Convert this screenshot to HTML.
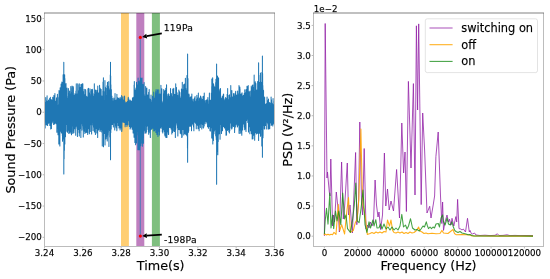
<!DOCTYPE html>
<html><head><meta charset="utf-8"><title>figure</title>
<style>
html,body{margin:0;padding:0;background:#fff;width:550px;height:279px;overflow:hidden}
svg{display:block}
text{font-family:"DejaVu Sans","Liberation Sans",sans-serif;fill:#000;stroke:#000;stroke-width:0.25px;stroke-opacity:0.6}
</style></head><body>
<svg width="550" height="279" viewBox="0 0 550 279">
<rect width="550" height="279" fill="#fff"/>
<defs><clipPath id="clipL"><rect x="44.5" y="12.8" width="230" height="233.7"/></clipPath><clipPath id="clipR"><rect x="313.5" y="12.8" width="230" height="233.7"/></clipPath></defs>
<rect x="121.00" y="13.0" width="7.90" height="233.5" fill="rgba(255,165,0,0.55)"/>
<rect x="136.30" y="13.0" width="8.00" height="233.5" fill="rgba(128,0,128,0.5)"/>
<rect x="151.90" y="13.0" width="8.00" height="233.5" fill="rgba(0,128,0,0.5)"/>
<g clip-path="url(#clipL)"><polyline transform="translate(44.5,0) scale(0.025000,0.1)" vector-effect="non-scaling-stroke" fill="none" stroke="#1f77b4" stroke-width="1.04" stroke-linejoin="round" points="0 1122 1 1100 2 1140 3 1178 4 1151 5 1184 6 1118 7 1023 8 1153 9 1161 10 1086 11 1096 12 1115 13 1181 14 1124 15 1071 16 1206 17 1151 18 1241 19 1203 20 1238 21 1137 22 1202 23 1102 24 1111 25 1134 26 1280 27 1156 28 1125 29 1114 30 1218 31 1152 32 1184 33 1173 34 1044 35 1173 36 1124 37 1057 38 1159 39 1129 40 1114 41 1118 42 1199 43 1117 44 1022 45 1219 46 1059 47 1114 48 1163 49 975 50 1066 51 1197 52 1117 53 1080 54 1134 55 1072 56 1127 57 1073 58 1016 59 1165 60 1107 61 1151 62 1113 63 1197 64 1159 65 1135 66 1056 67 1038 68 1205 69 1172 70 1075 71 1247 72 1151 73 1129 74 1030 75 1071 76 1143 77 1145 78 1138 79 1010 80 1149 81 1141 82 1096 83 1130 84 1135 85 1192 86 1123 87 1150 88 1036 89 1074 90 1124 91 1073 92 1144 93 1045 94 1123 95 1079 96 1203 97 1097 98 1228 99 1250 100 1141 101 1179 102 1110 103 957 104 1174 105 1161 106 1107 107 1086 108 1133 109 1135 110 1071 111 1084 112 1187 113 1127 114 1120 115 1188 116 1103 117 1176 118 1051 119 1108 120 1116 121 1159 122 1130 123 1247 124 1193 125 1096 126 1256 127 1060 128 1232 129 1067 130 1175 131 1065 132 1113 133 1219 134 1030 135 1016 136 1127 137 1140 138 1132 139 1183 140 1041 141 1156 142 1126 143 1172 144 1162 145 1202 146 1030 147 1132 148 1051 149 1121 150 1166 151 1143 152 1157 153 1122 154 1146 155 1141 156 1209 157 1173 158 1000 159 1164 160 1188 161 1098 162 1018 163 1213 164 1135 165 1162 166 1233 167 1068 168 1124 169 1117 170 1169 171 1089 172 1156 173 1131 174 1192 175 1198 176 1024 177 1154 178 1101 179 1125 180 1150 181 1154 182 1076 183 1141 184 1132 185 1121 186 1035 187 1072 188 1094 189 1158 190 1209 191 1052 192 1051 193 1131 194 1082 195 1065 196 1061 197 1054 198 1151 199 1010 200 1200 201 1059 202 1086 203 1058 204 984 205 1013 206 1194 207 1228 208 1062 209 1186 210 1123 211 1060 212 1225 213 1254 214 1103 215 1119 216 1138 217 1120 218 1176 219 1217 220 1133 221 1183 222 1225 223 1085 224 1126 225 1092 226 1184 227 1164 228 1185 229 1178 230 1108 231 1171 232 1096 233 1097 234 973 235 1210 236 1057 237 1128 238 1123 239 1213 240 1151 241 1068 242 1128 243 1116 244 1141 245 1037 246 1124 247 1260 248 1166 249 1246 250 1291 251 1156 252 1024 253 1119 254 1196 255 1181 256 1039 257 1111 258 1119 259 1126 260 1120 261 1063 262 1082 263 1106 264 1188 265 1085 266 1165 267 1042 268 1202 269 1131 270 1123 271 1205 272 995 273 1015 274 1151 275 1065 276 1094 277 1286 278 1104 279 1126 280 1116 281 1190 282 1139 283 1134 284 1035 285 1098 286 1123 287 1009 288 1157 289 1147 290 1236 291 1006 292 1051 293 1055 294 1073 295 1114 296 1107 297 1138 298 1135 299 1118 300 1011 301 1081 302 1126 303 1159 304 1162 305 1004 306 1085 307 1117 308 1144 309 1192 310 1127 311 1058 312 1147 313 1137 314 1136 315 1114 316 1222 317 1137 318 1176 319 1057 320 1171 321 1080 322 1010 323 1142 324 1160 325 1108 326 1123 327 1185 328 1088 329 973 330 1139 331 1135 332 1188 333 1099 334 1200 335 1192 336 1028 337 1179 338 1043 339 1010 340 1103 341 1082 342 978 343 1135 344 1160 345 1207 346 1119 347 1013 348 1052 349 1181 350 1176 351 1154 352 1101 353 1135 354 1107 355 1101 356 1141 357 1125 358 1107 359 1128 360 1085 361 984 362 1079 363 1118 364 1228 365 1094 366 1244 367 1211 368 1059 369 1070 370 1132 371 1229 372 1146 373 1165 374 1075 375 956 376 1106 377 1171 378 1196 379 1126 380 1133 381 1194 382 1114 383 1194 384 1040 385 1044 386 1042 387 1152 388 1084 389 1131 390 1147 391 1144 392 1204 393 1213 394 1064 395 1134 396 1106 397 1048 398 1231 399 1171 400 1109 401 1093 402 1146 403 1046 404 1107 405 1198 406 1181 407 1063 408 1088 409 1241 410 1023 411 1078 412 1023 413 1146 414 1141 415 1193 416 935 417 1133 418 1005 419 1163 420 1110 421 1227 422 1146 423 1050 424 1201 425 1043 426 1098 427 1188 428 1154 429 1151 430 1126 431 1156 432 1174 433 1141 434 1187 435 1203 436 1125 437 1057 438 1218 439 1122 440 1163 441 1184 442 1059 443 1155 444 1012 445 1171 446 1094 447 1137 448 1170 449 1079 450 1132 451 1078 452 1125 453 1190 454 1129 455 1119 456 1052 457 1179 458 1125 459 1230 460 1074 461 1190 462 1235 463 1126 464 1041 465 1218 466 1190 467 1169 468 1193 469 1094 470 1173 471 1168 472 1079 473 1170 474 1090 475 1183 476 1198 477 1237 478 985 479 1142 480 1104 481 1124 482 1110 483 1119 484 977 485 1191 486 1227 487 1191 488 1214 489 1063 490 1057 491 1191 492 1222 493 1148 494 1007 495 1323 496 1078 497 1204 498 1034 499 1206 500 1145 501 1241 502 1200 503 1000 504 1049 505 1155 506 1195 507 1281 508 1156 509 1125 510 1130 511 1131 512 1221 513 1128 514 1126 515 998 516 942 517 1135 518 1193 519 1128 520 1179 521 1193 522 1128 523 1223 524 1061 525 1133 526 1097 527 1141 528 1195 529 1218 530 1147 531 1179 532 1097 533 1123 534 1265 535 1115 536 1265 537 1188 538 1154 539 1348 540 1112 541 1105 542 1140 543 1170 544 1164 545 1233 546 1153 547 1186 548 1112 549 1263 550 1094 551 1105 552 1139 553 1175 554 1055 555 1324 556 1066 557 1093 558 1087 559 1075 560 1204 561 1155 562 1043 563 1069 564 1097 565 1312 566 1055 567 976 568 996 569 1093 570 1317 571 1005 572 1141 573 1439 574 1075 575 1309 576 1285 577 1202 578 963 579 1169 580 1089 581 904 582 923 583 1135 584 1153 585 1280 586 1209 587 1069 588 1073 589 1109 590 998 591 1219 592 1129 593 1031 594 1049 595 988 596 1073 597 1161 598 1077 599 1248 600 1327 601 1050 602 1129 603 1084 604 1335 605 1168 606 1197 607 1231 608 1404 609 1164 610 1010 611 1075 612 1198 613 1124 614 1028 615 1460 616 1138 617 1054 618 1037 619 910 620 980 621 1083 622 1085 623 1024 624 1190 625 1127 626 1009 627 878 628 1142 629 1128 630 1098 631 954 632 1126 633 939 634 1243 635 1146 636 1147 637 1024 638 992 639 1311 640 1237 641 1080 642 1205 643 1313 644 993 645 1060 646 1061 647 1182 648 994 649 1152 650 985 651 1237 652 1229 653 1097 654 1210 655 1038 656 1090 657 1238 658 1113 659 1166 660 1008 661 1201 662 1177 663 972 664 841 665 871 666 1115 667 1093 668 930 669 1138 670 1241 671 1112 672 1069 673 1225 674 1329 675 1304 676 1035 677 1216 678 1144 679 1098 680 1042 681 1157 682 1069 683 1232 684 1170 685 1260 686 982 687 1136 688 1218 689 1154 690 1146 691 1028 692 1316 693 1248 694 1159 695 819 696 1007 697 1125 698 1043 699 871 700 1132 701 1142 702 981 703 1076 704 1026 705 1179 706 896 707 893 708 1037 709 1034 710 1291 711 1001 712 1120 713 1033 714 932 715 1123 716 1360 717 1062 718 1210 719 1187 720 1184 721 1151 722 1412 723 994 724 1042 725 1073 726 823 727 1116 728 1327 729 1392 730 1152 731 1308 732 1175 733 1319 734 1125 735 1342 736 1274 737 1171 738 1138 739 1063 740 1214 741 1173 742 1283 743 1192 744 968 745 747 746 1048 747 887 748 1193 749 759 750 1202 751 1061 752 1111 753 1134 754 1130 755 1230 756 1263 757 1218 758 747 759 1137 760 1344 761 1103 762 1041 763 1387 764 945 765 941 766 956 767 1215 768 981 769 1048 770 1322 771 1125 772 622 773 1741 774 1186 775 1344 776 999 777 1222 778 1132 779 1105 780 1125 781 1462 782 1057 783 1160 784 1587 785 1384 786 1033 787 1255 788 963 789 1087 790 998 791 1049 792 1121 793 1116 794 1149 795 1212 796 1503 797 1106 798 1344 799 1278 800 1110 801 1093 802 1176 803 915 804 1153 805 1100 806 747 807 1046 808 1145 809 1016 810 1220 811 1071 812 1301 813 1077 814 1440 815 785 816 1102 817 1300 818 1292 819 1126 820 1197 821 1122 822 1121 823 1286 824 986 825 1140 826 1071 827 977 828 839 829 1208 830 1111 831 1195 832 974 833 1282 834 1150 835 1099 836 1276 837 1274 838 1194 839 1367 840 1282 841 1174 842 1105 843 1145 844 1325 845 1166 846 1020 847 1057 848 1128 849 1228 850 1039 851 1192 852 1238 853 1212 854 951 855 1102 856 990 857 1174 858 1014 859 1192 860 1146 861 836 862 1034 863 1174 864 1127 865 1086 866 991 867 1175 868 1313 869 1155 870 1118 871 1109 872 976 873 1088 874 1032 875 1239 876 1025 877 890 878 1035 879 1096 880 1104 881 927 882 1215 883 1134 884 1072 885 1042 886 1166 887 1089 888 1150 889 1109 890 1135 891 1233 892 1125 893 1029 894 1216 895 1146 896 1052 897 1224 898 1103 899 1222 900 1003 901 879 902 910 903 1143 904 1044 905 1110 906 1112 907 960 908 1246 909 1011 910 1127 911 974 912 1103 913 1186 914 1093 915 1045 916 1119 917 1071 918 1171 919 1323 920 1028 921 1049 922 1107 923 1115 924 1013 925 1165 926 1189 927 1140 928 997 929 1253 930 997 931 1182 932 1226 933 990 934 1132 935 1244 936 1156 937 1025 938 997 939 1162 940 1080 941 1047 942 1183 943 1085 944 1125 945 1173 946 1169 947 1115 948 1119 949 1175 950 1162 951 1005 952 1100 953 1029 954 996 955 1061 956 884 957 1200 958 1037 959 1152 960 927 961 944 962 1306 963 1213 964 1053 965 1039 966 1045 967 1129 968 1075 969 1054 970 1130 971 1014 972 1334 973 1056 974 1219 975 1022 976 1144 977 1206 978 1083 979 1208 980 1208 981 1269 982 1125 983 1070 984 1015 985 1136 986 1012 987 1121 988 1131 989 1062 990 1011 991 1154 992 1145 993 1138 994 1114 995 1207 996 1014 997 1160 998 1074 999 1200 1000 1085 1001 1081 1002 1162 1003 910 1004 1083 1005 936 1006 1022 1007 1185 1008 1158 1009 1077 1010 1116 1011 1117 1012 1149 1013 1292 1014 1144 1015 1330 1016 1083 1017 1191 1018 1190 1019 1143 1020 1094 1021 1257 1022 1286 1023 1222 1024 1314 1025 1213 1026 955 1027 1222 1028 1054 1029 1251 1030 1091 1031 1152 1032 1128 1033 1063 1034 938 1035 1102 1036 1109 1037 1214 1038 1061 1039 1146 1040 1035 1041 1127 1042 939 1043 1308 1044 1150 1045 1030 1046 1155 1047 1197 1048 1147 1049 1252 1050 1110 1051 866 1052 1002 1053 1226 1054 1204 1055 1160 1056 1017 1057 1199 1058 1187 1059 1029 1060 1032 1061 1157 1062 1227 1063 1268 1064 1188 1065 1332 1066 1044 1067 1182 1068 1072 1069 926 1070 999 1071 1230 1072 1031 1073 1001 1074 1192 1075 1212 1076 1133 1077 1273 1078 968 1079 1348 1080 1226 1081 1148 1082 1144 1083 1105 1084 1094 1085 1142 1086 1003 1087 1323 1088 1122 1089 1189 1090 1108 1091 1099 1092 1208 1093 1183 1094 1039 1095 1086 1096 1186 1097 908 1098 880 1099 1260 1100 1091 1101 859 1102 1040 1103 1099 1104 1142 1105 1173 1106 1142 1107 1174 1108 1044 1109 1160 1110 1164 1111 1235 1112 1127 1113 1206 1114 1139 1115 1013 1116 1084 1117 1069 1118 1085 1119 1116 1120 1134 1121 1151 1122 1043 1123 1224 1124 981 1125 1119 1126 1193 1127 1168 1128 1186 1129 1106 1130 1190 1131 1002 1132 1196 1133 1336 1134 1191 1135 1311 1136 1126 1137 1011 1138 1054 1139 1248 1140 1194 1141 935 1142 1089 1143 1122 1144 1011 1145 864 1146 986 1147 1108 1148 1085 1149 1058 1150 1180 1151 1222 1152 1117 1153 1211 1154 1128 1155 1112 1156 876 1157 1202 1158 1134 1159 1138 1160 1076 1161 1012 1162 1168 1163 1199 1164 1276 1165 1209 1166 1066 1167 1118 1168 1218 1169 1157 1170 1119 1171 1069 1172 1178 1173 1146 1174 1293 1175 1230 1176 952 1177 1328 1178 1154 1179 1099 1180 1158 1181 1198 1182 1128 1183 1123 1184 1130 1185 1299 1186 1136 1187 1203 1188 1174 1189 1099 1190 1055 1191 1028 1192 1169 1193 1025 1194 999 1195 1003 1196 976 1197 1136 1198 1139 1199 1036 1200 1251 1201 1100 1202 1172 1203 1157 1204 1286 1205 1206 1206 1124 1207 1029 1208 1018 1209 1130 1210 1140 1211 1200 1212 1080 1213 1146 1214 1059 1215 938 1216 1125 1217 1263 1218 1203 1219 1259 1220 1235 1221 985 1222 1099 1223 1265 1224 1054 1225 990 1226 1156 1227 1186 1228 1154 1229 1092 1230 1055 1231 998 1232 995 1233 998 1234 979 1235 1053 1236 1266 1237 1135 1238 1089 1239 1158 1240 1027 1241 1156 1242 1209 1243 971 1244 1052 1245 1099 1246 1025 1247 1011 1248 1087 1249 1353 1250 1186 1251 1165 1252 1215 1253 1102 1254 997 1255 1168 1256 1229 1257 909 1258 1165 1259 1238 1260 1097 1261 1078 1262 1189 1263 1039 1264 1168 1265 1209 1266 1104 1267 1041 1268 1182 1269 1088 1270 1131 1271 838 1272 1189 1273 977 1274 1127 1275 1134 1276 1047 1277 1028 1278 989 1279 1088 1280 1179 1281 1173 1282 1069 1283 1061 1284 975 1285 1078 1286 1011 1287 963 1288 1105 1289 1262 1290 1233 1291 1257 1292 955 1293 1202 1294 993 1295 1061 1296 942 1297 1017 1298 1132 1299 1141 1300 1113 1301 1104 1302 1172 1303 1125 1304 953 1305 1282 1306 1095 1307 1207 1308 1103 1309 1034 1310 1128 1311 1041 1312 1272 1313 1006 1314 1179 1315 1057 1316 1103 1317 1365 1318 1193 1319 1099 1320 959 1321 1092 1322 1095 1323 1255 1324 972 1325 932 1326 1119 1327 1143 1328 1274 1329 1030 1330 838 1331 1047 1332 990 1333 1065 1334 1215 1335 982 1336 1238 1337 1142 1338 1093 1339 1030 1340 1079 1341 1082 1342 1194 1343 1243 1344 1116 1345 1189 1346 1245 1347 1241 1348 1168 1349 1296 1350 1249 1351 1276 1352 1103 1353 1080 1354 911 1355 1263 1356 1186 1357 1026 1358 1143 1359 1153 1360 943 1361 1154 1362 1231 1363 1246 1364 1087 1365 1090 1366 1251 1367 1215 1368 1066 1369 1062 1370 1183 1371 1057 1372 1062 1373 1290 1374 1152 1375 1079 1376 1176 1377 1323 1378 1149 1379 1043 1380 956 1381 1328 1382 848 1383 1228 1384 1022 1385 993 1386 1019 1387 1107 1388 1231 1389 1057 1390 1190 1391 1359 1392 838 1393 1048 1394 931 1395 1208 1396 968 1397 955 1398 959 1399 1124 1400 1235 1401 1139 1402 1329 1403 1282 1404 1113 1405 1215 1406 1138 1407 1133 1408 919 1409 986 1410 1127 1411 995 1412 1196 1413 1154 1414 1027 1415 1239 1416 1149 1417 1246 1418 1110 1419 951 1420 1193 1421 1099 1422 1207 1423 1230 1424 1238 1425 969 1426 874 1427 1072 1428 1190 1429 1048 1430 1154 1431 1038 1432 1092 1433 1093 1434 1059 1435 1177 1436 1160 1437 1284 1438 1164 1439 1256 1440 1136 1441 1212 1442 1112 1443 1075 1444 1256 1445 1199 1446 1211 1447 1044 1448 943 1449 1033 1450 1155 1451 968 1452 1264 1453 965 1454 1184 1455 1376 1456 844 1457 956 1458 1219 1459 1105 1460 1143 1461 1112 1462 1262 1463 1186 1464 1073 1465 1099 1466 996 1467 1114 1468 875 1469 1190 1470 1095 1471 1302 1472 1240 1473 983 1474 1211 1475 1067 1476 1128 1477 1220 1478 1155 1479 1171 1480 1168 1481 1043 1482 1054 1483 1177 1484 1208 1485 1093 1486 1132 1487 1014 1488 843 1489 1034 1490 1126 1491 1139 1492 1203 1493 1207 1494 1217 1495 1160 1496 1162 1497 1044 1498 1160 1499 1141 1500 1237 1501 949 1502 1069 1503 934 1504 1039 1505 966 1506 1146 1507 1047 1508 838 1509 1237 1510 999 1511 944 1512 1078 1513 1042 1514 988 1515 1185 1516 1079 1517 1206 1518 1187 1519 1182 1520 1136 1521 1107 1522 1074 1523 1259 1524 909 1525 998 1526 1044 1527 1157 1528 1131 1529 1063 1530 1078 1531 1284 1532 1043 1533 838 1534 1300 1535 1015 1536 1083 1537 1133 1538 974 1539 1236 1540 1105 1541 964 1542 1141 1543 1163 1544 1110 1545 1165 1546 955 1547 1210 1548 1028 1549 1243 1550 1050 1551 1133 1552 1371 1553 1123 1554 1225 1555 1165 1556 956 1557 1230 1558 1225 1559 967 1560 1110 1561 956 1562 1087 1563 1208 1564 1129 1565 989 1566 1021 1567 1122 1568 1117 1569 1133 1570 1178 1571 914 1572 1122 1573 1232 1574 1168 1575 1044 1576 1053 1577 1136 1578 1187 1579 1120 1580 1284 1581 1248 1582 1036 1583 1169 1584 1082 1585 991 1586 1052 1587 1120 1588 892 1589 1050 1590 1157 1591 1043 1592 1078 1593 1205 1594 1115 1595 1138 1596 1312 1597 1139 1598 1150 1599 1165 1600 1281 1601 1157 1602 1126 1603 1111 1604 1232 1605 1054 1606 1240 1607 1144 1608 981 1609 1189 1610 1172 1611 1006 1612 1159 1613 1151 1614 1099 1615 1009 1616 1335 1617 1202 1618 1219 1619 1227 1620 1205 1621 1203 1622 1090 1623 1208 1624 1109 1625 1079 1626 1193 1627 1108 1628 946 1629 1088 1630 1184 1631 1129 1632 1210 1633 1093 1634 1030 1635 1201 1636 1142 1637 1003 1638 1170 1639 1102 1640 1221 1641 1201 1642 1172 1643 894 1644 1161 1645 1172 1646 1175 1647 1138 1648 1053 1649 1103 1650 906 1651 1100 1652 970 1653 1093 1654 1059 1655 1258 1656 1134 1657 1129 1658 1145 1659 1324 1660 1030 1661 1159 1662 1164 1663 1146 1664 1144 1665 1080 1666 1242 1667 1210 1668 1092 1669 1107 1670 1158 1671 1176 1672 1201 1673 1128 1674 998 1675 1222 1676 962 1677 1034 1678 1165 1679 1040 1680 1260 1681 1285 1682 1243 1683 1161 1684 1153 1685 1171 1686 1112 1687 1323 1688 1070 1689 1256 1690 1184 1691 1161 1692 1231 1693 1251 1694 1217 1695 1124 1696 1060 1697 1063 1698 1216 1699 1197 1700 1209 1701 1075 1702 1314 1703 992 1704 1168 1705 1196 1706 1087 1707 1014 1708 1086 1709 1012 1710 1108 1711 993 1712 991 1713 1132 1714 971 1715 1105 1716 1113 1717 1209 1718 1150 1719 1041 1720 1246 1721 1054 1722 1086 1723 1093 1724 1329 1725 1132 1726 1054 1727 1194 1728 1113 1729 1345 1730 1052 1731 1185 1732 1031 1733 1295 1734 1050 1735 1145 1736 1037 1737 1209 1738 1180 1739 887 1740 1200 1741 1189 1742 1148 1743 1218 1744 997 1745 941 1746 1188 1747 1284 1748 999 1749 1006 1750 1036 1751 1001 1752 1204 1753 1138 1754 1252 1755 1255 1756 1019 1757 1185 1758 883 1759 1115 1760 1182 1761 1039 1762 933 1763 1071 1764 1237 1765 1083 1766 978 1767 1169 1768 1195 1769 1016 1770 1108 1771 1226 1772 1158 1773 1193 1774 1091 1775 1111 1776 1001 1777 1048 1778 1269 1779 1080 1780 1028 1781 1074 1782 1014 1783 1174 1784 1212 1785 1025 1786 1222 1787 1325 1788 1015 1789 1190 1790 1151 1791 1254 1792 1247 1793 1231 1794 1156 1795 1084 1796 1338 1797 1043 1798 1233 1799 1222 1800 1051 1801 1129 1802 1267 1803 928 1804 1203 1805 1096 1806 1101 1807 974 1808 1165 1809 1016 1810 1192 1811 1004 1812 1194 1813 1156 1814 923 1815 1089 1816 1111 1817 887 1818 1084 1819 1199 1820 1045 1821 1233 1822 1004 1823 996 1824 1176 1825 1181 1826 1104 1827 1121 1828 1214 1829 1063 1830 1314 1831 1163 1832 1160 1833 1148 1834 1090 1835 1238 1836 1061 1837 1139 1838 1183 1839 1251 1840 1233 1841 1085 1842 1213 1843 1116 1844 1011 1845 1014 1846 958 1847 1150 1848 1224 1849 1015 1850 1090 1851 1004 1852 1121 1853 997 1854 1033 1855 1047 1856 1069 1857 1081 1858 1098 1859 1099 1860 1018 1861 1170 1862 940 1863 1132 1864 1019 1865 1131 1866 1146 1867 909 1868 1151 1869 1242 1870 1189 1871 1152 1872 896 1873 1101 1874 1024 1875 1216 1876 1085 1877 1052 1878 933 1879 1188 1880 1059 1881 1091 1882 1218 1883 1124 1884 1147 1885 1341 1886 1059 1887 1066 1888 1164 1889 1248 1890 967 1891 1094 1892 1016 1893 974 1894 1171 1895 1037 1896 1145 1897 1128 1898 1130 1899 1123 1900 1005 1901 1109 1902 1137 1903 1148 1904 1087 1905 1206 1906 1170 1907 1127 1908 1176 1909 1134 1910 1180 1911 912 1912 983 1913 1075 1914 1127 1915 892 1916 1088 1917 1131 1918 1091 1919 1090 1920 974 1921 1124 1922 902 1923 1205 1924 1049 1925 1216 1926 931 1927 1153 1928 1128 1929 1025 1930 990 1931 1227 1932 1155 1933 1253 1934 1108 1935 1132 1936 1155 1937 1187 1938 1159 1939 1192 1940 1067 1941 963 1942 1304 1943 1133 1944 1162 1945 1071 1946 1212 1947 1136 1948 1220 1949 1049 1950 1112 1951 1138 1952 1083 1953 1146 1954 1268 1955 1060 1956 1092 1957 1137 1958 1019 1959 994 1960 1225 1961 1196 1962 960 1963 973 1964 1192 1965 1233 1966 1182 1967 1169 1968 1271 1969 1119 1970 1243 1971 1236 1972 1026 1973 1187 1974 1129 1975 1056 1976 1037 1977 1154 1978 1118 1979 1200 1980 939 1981 1054 1982 1226 1983 1122 1984 1047 1985 1072 1986 930 1987 978 1988 1173 1989 1131 1990 1243 1991 1096 1992 1107 1993 838 1994 1112 1995 1319 1996 1185 1997 1111 1998 1240 1999 1204 2000 1157 2001 1086 2002 1138 2003 1206 2004 1040 2005 1173 2006 1169 2007 1252 2008 1196 2009 1054 2010 1274 2011 1129 2012 1047 2013 1158 2014 1097 2015 1227 2016 985 2017 1007 2018 1098 2019 1287 2020 1221 2021 1020 2022 942 2023 1091 2024 991 2025 1179 2026 1140 2027 1122 2028 1078 2029 1266 2030 1024 2031 983 2032 1230 2033 1250 2034 1086 2035 1184 2036 1345 2037 1037 2038 1106 2039 1167 2040 900 2041 1108 2042 1193 2043 1112 2044 1220 2045 1194 2046 1082 2047 1174 2048 1165 2049 947 2050 1032 2051 1038 2052 1067 2053 1072 2054 969 2055 1124 2056 927 2057 1212 2058 1146 2059 1252 2060 1155 2061 1068 2062 970 2063 1185 2064 1122 2065 1156 2066 1192 2067 1234 2068 1116 2069 1285 2070 1111 2071 1120 2072 1184 2073 1217 2074 1252 2075 926 2076 1248 2077 959 2078 1059 2079 1157 2080 1231 2081 1013 2082 941 2083 1210 2084 1150 2085 1012 2086 1087 2087 912 2088 1176 2089 1065 2090 1240 2091 902 2092 1191 2093 1330 2094 1134 2095 1136 2096 921 2097 1154 2098 1124 2099 1060 2100 956 2101 1128 2102 1013 2103 1068 2104 1150 2105 1114 2106 1119 2107 1208 2108 995 2109 1252 2110 999 2111 1022 2112 1131 2113 1194 2114 1144 2115 1073 2116 1044 2117 1092 2118 1018 2119 1175 2120 1098 2121 1270 2122 1042 2123 1106 2124 1161 2125 1000 2126 1050 2127 1376 2128 1118 2129 1259 2130 1010 2131 861 2132 1171 2133 1115 2134 1146 2135 1086 2136 1055 2137 987 2138 1215 2139 957 2140 1210 2141 1093 2142 1001 2143 1047 2144 1210 2145 1188 2146 1166 2147 1127 2148 1002 2149 1244 2150 1073 2151 1058 2152 1064 2153 1073 2154 963 2155 1071 2156 1032 2157 1063 2158 934 2159 1301 2160 988 2161 1147 2162 1149 2163 1213 2164 1298 2165 1158 2166 1187 2167 1070 2168 1261 2169 972 2170 1094 2171 1146 2172 1189 2173 1196 2174 1228 2175 1173 2176 1122 2177 1139 2178 1255 2179 1147 2180 1206 2181 1106 2182 926 2183 1057 2184 1152 2185 1275 2186 1255 2187 1281 2188 1046 2189 1194 2190 1116 2191 1181 2192 1113 2193 975 2194 1187 2195 1154 2196 1198 2197 1030 2198 1219 2199 1229 2200 1253 2201 1255 2202 1073 2203 852 2204 1216 2205 1022 2206 1096 2207 1226 2208 1148 2209 1144 2210 1187 2211 919 2212 1301 2213 1082 2214 1088 2215 1177 2216 1107 2217 1030 2218 1106 2219 1079 2220 1050 2221 1314 2222 966 2223 881 2224 1018 2225 1015 2226 1257 2227 1134 2228 1201 2229 1179 2230 1019 2231 1201 2232 1135 2233 1310 2234 1138 2235 1113 2236 1192 2237 1194 2238 916 2239 1244 2240 1228 2241 1204 2242 990 2243 890 2244 1086 2245 1196 2246 1166 2247 1004 2248 1217 2249 960 2250 964 2251 1115 2252 1050 2253 1038 2254 947 2255 1234 2256 989 2257 1162 2258 1204 2259 1111 2260 1145 2261 1229 2262 1295 2263 1225 2264 955 2265 896 2266 1047 2267 985 2268 1179 2269 1131 2270 1089 2271 1243 2272 1233 2273 1111 2274 1158 2275 1242 2276 1077 2277 1152 2278 1002 2279 1123 2280 1157 2281 1107 2282 1142 2283 1199 2284 1169 2285 1033 2286 1045 2287 968 2288 1320 2289 1169 2290 1171 2291 1102 2292 1176 2293 1183 2294 1027 2295 1101 2296 1262 2297 959 2298 1000 2299 1192 2300 1020 2301 1212 2302 983 2303 1149 2304 1221 2305 1168 2306 1217 2307 1098 2308 1101 2309 1118 2310 1192 2311 1459 2312 1111 2313 1360 2314 1092 2315 979 2316 1088 2317 1172 2318 1145 2319 1139 2320 1193 2321 1197 2322 1241 2323 970 2324 1124 2325 1000 2326 1154 2327 1113 2328 1144 2329 1063 2330 1017 2331 1092 2332 1209 2333 1222 2334 910 2335 1158 2336 1160 2337 935 2338 983 2339 1054 2340 1174 2341 821 2342 1072 2343 1052 2344 1144 2345 1303 2346 1293 2347 1070 2348 1072 2349 1153 2350 1272 2351 1307 2352 1164 2353 1309 2354 1007 2355 975 2356 777 2357 1010 2358 1198 2359 1234 2360 1468 2361 1199 2362 1145 2363 999 2364 1044 2365 1047 2366 1095 2367 1038 2368 937 2369 1259 2370 1181 2371 1300 2372 915 2373 957 2374 1026 2375 1276 2376 1100 2377 1152 2378 1112 2379 1146 2380 1056 2381 1173 2382 1013 2383 1092 2384 1160 2385 1137 2386 1179 2387 1018 2388 1157 2389 1085 2390 1173 2391 1312 2392 1007 2393 1258 2394 1036 2395 1069 2396 1334 2397 1243 2398 1188 2399 1227 2400 1274 2401 1028 2402 1153 2403 1073 2404 1177 2405 1083 2406 1219 2407 1126 2408 1048 2409 1117 2410 1181 2411 1261 2412 1101 2413 1078 2414 1155 2415 1221 2416 1053 2417 805 2418 1161 2419 1079 2420 1074 2421 1451 2422 1107 2423 1213 2424 945 2425 1155 2426 1222 2427 1150 2428 1101 2429 1194 2430 1129 2431 1296 2432 1151 2433 1023 2434 871 2435 1032 2436 1088 2437 971 2438 992 2439 910 2440 984 2441 1138 2442 1089 2443 1100 2444 1084 2445 1097 2446 1223 2447 1391 2448 1208 2449 1382 2450 1114 2451 1122 2452 1337 2453 1034 2454 1012 2455 1110 2456 909 2457 883 2458 1277 2459 990 2460 1066 2461 1069 2462 1003 2463 1214 2464 1198 2465 1228 2466 1219 2467 1135 2468 1308 2469 1256 2470 1049 2471 1132 2472 1073 2473 1364 2474 1223 2475 1193 2476 1118 2477 1197 2478 1003 2479 1130 2480 1120 2481 1121 2482 1032 2483 1183 2484 979 2485 1064 2486 1103 2487 1117 2488 1056 2489 993 2490 1001 2491 1074 2492 1010 2493 1107 2494 962 2495 1126 2496 1388 2497 951 2498 1109 2499 1272 2500 1148 2501 1235 2502 854 2503 1059 2504 1323 2505 1053 2506 1173 2507 877 2508 1257 2509 1410 2510 1114 2511 1167 2512 1176 2513 1396 2514 1068 2515 908 2516 1367 2517 973 2518 1195 2519 822 2520 1067 2521 1146 2522 981 2523 1055 2524 1198 2525 1032 2526 1188 2527 1351 2528 863 2529 1167 2530 1200 2531 1079 2532 1322 2533 1296 2534 1186 2535 1189 2536 1113 2537 979 2538 1183 2539 1059 2540 1045 2541 1261 2542 1093 2543 1243 2544 986 2545 1064 2546 1120 2547 1294 2548 1108 2549 1221 2550 1032 2551 1138 2552 1226 2553 1004 2554 1030 2555 1198 2556 974 2557 1160 2558 1162 2559 1106 2560 1219 2561 1179 2562 1143 2563 927 2564 931 2565 1156 2566 916 2567 1128 2568 1073 2569 1009 2570 1084 2571 815 2572 1089 2573 1275 2574 955 2575 1174 2576 1159 2577 1466 2578 994 2579 1018 2580 1026 2581 997 2582 909 2583 1129 2584 990 2585 1227 2586 1165 2587 981 2588 1065 2589 1273 2590 1091 2591 1155 2592 1212 2593 1073 2594 1142 2595 1304 2596 1249 2597 903 2598 1304 2599 1092 2600 1067 2601 1047 2602 1275 2603 1148 2604 1153 2605 1085 2606 1173 2607 1239 2608 1051 2609 1006 2610 1132 2611 1072 2612 1164 2613 1000 2614 1079 2615 1222 2616 1123 2617 1161 2618 1160 2619 1026 2620 1136 2621 1237 2622 884 2623 1127 2624 1106 2625 1099 2626 1054 2627 995 2628 1102 2629 1369 2630 1086 2631 1158 2632 750 2633 837 2634 1206 2635 968 2636 1018 2637 1288 2638 980 2639 951 2640 622 2641 1598 2642 761 2643 1056 2644 1219 2645 1161 2646 1242 2647 759 2648 982 2649 1090 2650 1043 2651 1071 2652 1324 2653 967 2654 1090 2655 929 2656 848 2657 1131 2658 1160 2659 1127 2660 1264 2661 1129 2662 933 2663 1075 2664 1219 2665 1150 2666 1160 2667 1000 2668 1162 2669 1163 2670 1290 2671 1172 2672 1026 2673 1096 2674 1051 2675 894 2676 1051 2677 1085 2678 1123 2679 1164 2680 1222 2681 1168 2682 1229 2683 1165 2684 1114 2685 1211 2686 1200 2687 1184 2688 1084 2689 1131 2690 1058 2691 1051 2692 1156 2693 1084 2694 1222 2695 961 2696 1034 2697 1143 2698 1193 2699 1091 2700 1246 2701 1177 2702 1064 2703 1118 2704 1152 2705 1053 2706 1195 2707 1103 2708 1154 2709 1179 2710 1090 2711 1190 2712 988 2713 1163 2714 982 2715 1197 2716 1080 2717 1204 2718 1214 2719 1111 2720 1074 2721 1209 2722 1039 2723 1177 2724 1113 2725 1096 2726 1080 2727 1245 2728 1008 2729 1083 2730 1151 2731 1192 2732 1238 2733 1215 2734 1084 2735 1146 2736 1200 2737 1158 2738 1012 2739 1145 2740 1162 2741 1027 2742 1090 2743 1119 2744 1164 2745 1228 2746 1202 2747 1155 2748 1137 2749 1097 2750 1084 2751 1107 2752 1107 2753 1191 2754 1269 2755 1158 2756 1188 2757 1167 2758 1141 2759 1207 2760 1198 2761 1129 2762 1114 2763 1167 2764 1087 2765 1137 2766 1192 2767 1120 2768 990 2769 1168 2770 1041 2771 1026 2772 1017 2773 1179 2774 981 2775 1114 2776 1140 2777 1138 2778 1080 2779 1119 2780 1134 2781 1032 2782 1172 2783 1194 2784 1067 2785 1073 2786 1046 2787 1196 2788 1047 2789 1089 2790 999 2791 1208 2792 1107 2793 1141 2794 1231 2795 1171 2796 1044 2797 1154 2798 1172 2799 1062 2800 1053 2801 1053 2802 1176 2803 1126 2804 1050 2805 1167 2806 1174 2807 1065 2808 1013 2809 1201 2810 1300 2811 1221 2812 1191 2813 1132 2814 1079 2815 1132 2816 1170 2817 1112 2818 1188 2819 1126 2820 1166 2821 936 2822 1065 2823 1179 2824 1190 2825 1152 2826 1235 2827 1172 2828 1173 2829 1061 2830 1152 2831 1176 2832 1214 2833 1203 2834 1127 2835 1137 2836 1044 2837 1165 2838 1049 2839 1105 2840 1123 2841 1259 2842 1210 2843 1071 2844 1025 2845 1108 2846 1069 2847 1150 2848 1148 2849 1168 2850 1055 2851 1099 2852 1138 2853 1145 2854 1084 2855 1100 2856 1179 2857 1003 2858 1105 2859 1122 2860 1020 2861 1051 2862 1128 2863 1085 2864 1195 2865 1166 2866 1277 2867 1038 2868 1252 2869 1075 2870 1179 2871 1189 2872 1136 2873 1104 2874 1080 2875 1000 2876 1098 2877 1061 2878 1163 2879 1073 2880 1112 2881 1154 2882 1129 2883 1127 2884 1109 2885 1095 2886 1157 2887 1173 2888 1071 2889 1238 2890 1165 2891 1015 2892 1307 2893 1170 2894 1075 2895 1235 2896 943 2897 1299 2898 1023 2899 1015 2900 1059 2901 1138 2902 1098 2903 1184 2904 1067 2905 1199 2906 1141 2907 1054 2908 1198 2909 1147 2910 1111 2911 1214 2912 1042 2913 1099 2914 1226 2915 1126 2916 1175 2917 1167 2918 1117 2919 1171 2920 1056 2921 1170 2922 1055 2923 1125 2924 1064 2925 1159 2926 1157 2927 1201 2928 1083 2929 1058 2930 977 2931 1034 2932 1105 2933 1137 2934 1096 2935 1124 2936 1022 2937 1058 2938 1180 2939 1169 2940 1029 2941 1101 2942 1138 2943 1041 2944 1149 2945 1142 2946 1154 2947 1256 2948 1063 2949 1205 2950 1161 2951 1173 2952 1073 2953 1127 2954 1121 2955 1237 2956 1128 2957 1223 2958 1101 2959 1097 2960 1124 2961 983 2962 1086 2963 1082 2964 1113 2965 1136 2966 1056 2967 1047 2968 1211 2969 1050 2970 1087 2971 1057 2972 1091 2973 1207 2974 1202 2975 998 2976 1105 2977 1219 2978 1099 2979 1147 2980 1248 2981 1279 2982 1232 2983 1104 2984 1126 2985 1139 2986 1103 2987 1082 2988 1266 2989 1143 2990 1179 2991 1207 2992 1160 2993 1131 2994 1141 2995 1222 2996 1156 2997 987 2998 1195 2999 1239 3000 1104 3001 1083 3002 1092 3003 1200 3004 1056 3005 1177 3006 1201 3007 1165 3008 1130 3009 1075 3010 1081 3011 1124 3012 1061 3013 1117 3014 1063 3015 1220 3016 1232 3017 1072 3018 1219 3019 1143 3020 1129 3021 1156 3022 1154 3023 1032 3024 1299 3025 1065 3026 973 3027 1121 3028 1124 3029 1075 3030 1004 3031 1206 3032 1117 3033 1135 3034 1086 3035 1112 3036 1080 3037 1152 3038 1119 3039 1170 3040 1169 3041 1132 3042 1132 3043 1205 3044 1022 3045 1132 3046 1220 3047 1053 3048 1175 3049 1090 3050 1124 3051 1107 3052 1112 3053 1163 3054 1120 3055 995 3056 1281 3057 1118 3058 1095 3059 1197 3060 1220 3061 987 3062 1149 3063 992 3064 1089 3065 1118 3066 1093 3067 1083 3068 1049 3069 1095 3070 1113 3071 1111 3072 1038 3073 1071 3074 1194 3075 1168 3076 1102 3077 1167 3078 1149 3079 1190 3080 1141 3081 1096 3082 1060 3083 1122 3084 993 3085 1128 3086 954 3087 1060 3088 1091 3089 1158 3090 1314 3091 1133 3092 1111 3093 1002 3094 1220 3095 1003 3096 1140 3097 1077 3098 1303 3099 1114 3100 1147 3101 1080 3102 1117 3103 1204 3104 1063 3105 1079 3106 1085 3107 1059 3108 1054 3109 1124 3110 1219 3111 1221 3112 1038 3113 1078 3114 1116 3115 1153 3116 1120 3117 1121 3118 1146 3119 1172 3120 987 3121 1108 3122 1165 3123 1215 3124 1174 3125 1077 3126 1075 3127 1138 3128 1119 3129 1144 3130 1201 3131 1041 3132 1099 3133 968 3134 1176 3135 1132 3136 1067 3137 1140 3138 1221 3139 1190 3140 1116 3141 1101 3142 1129 3143 1060 3144 1060 3145 1102 3146 1121 3147 1140 3148 1088 3149 1065 3150 1119 3151 1094 3152 1145 3153 1223 3154 1194 3155 1075 3156 1094 3157 1023 3158 1119 3159 1068 3160 1040 3161 1060 3162 1166 3163 1136 3164 1114 3165 1192 3166 1093 3167 1058 3168 1157 3169 999 3170 1143 3171 1137 3172 1139 3173 1173 3174 1096 3175 1121 3176 1019 3177 1084 3178 1089 3179 1138 3180 1223 3181 1129 3182 1183 3183 1063 3184 1125 3185 1018 3186 1076 3187 1070 3188 1108 3189 1109 3190 1082 3191 1065 3192 1173 3193 1092 3194 959 3195 1129 3196 1141 3197 1172 3198 1225 3199 1048 3200 1119 3201 1104 3202 1007 3203 966 3204 1186 3205 1056 3206 1083 3207 1097 3208 1092 3209 1124 3210 1023 3211 1084 3212 1101 3213 1044 3214 1066 3215 1093 3216 1102 3217 1012 3218 1090 3219 1129 3220 1183 3221 1147 3222 1197 3223 1116 3224 1106 3225 1268 3226 1121 3227 1082 3228 1112 3229 1190 3230 1043 3231 1172 3232 1210 3233 1199 3234 1123 3235 1061 3236 1049 3237 1109 3238 1207 3239 1169 3240 1186 3241 1135 3242 1248 3243 1115 3244 1082 3245 1133 3246 1094 3247 1189 3248 1226 3249 1168 3250 1050 3251 1058 3252 1155 3253 1047 3254 1145 3255 1028 3256 1092 3257 1154 3258 1073 3259 1177 3260 1189 3261 1225 3262 1106 3263 1126 3264 1128 3265 1152 3266 1033 3267 1153 3268 1174 3269 1045 3270 1034 3271 1101 3272 1246 3273 1165 3274 1084 3275 1121 3276 1025 3277 1220 3278 1080 3279 1167 3280 1040 3281 1128 3282 1058 3283 1168 3284 1223 3285 1201 3286 1166 3287 1195 3288 1047 3289 1039 3290 1105 3291 1196 3292 1131 3293 1171 3294 1032 3295 1103 3296 1092 3297 1151 3298 1265 3299 1177 3300 1202 3301 1099 3302 1116 3303 1179 3304 1150 3305 1024 3306 1191 3307 1188 3308 1139 3309 1172 3310 1153 3311 1089 3312 1014 3313 1249 3314 1124 3315 1120 3316 1128 3317 1136 3318 1147 3319 1060 3320 1155 3321 1131 3322 1122 3323 1116 3324 1135 3325 1060 3326 1123 3327 1112 3328 1126 3329 1194 3330 1181 3331 1197 3332 1110 3333 1173 3334 1198 3335 1108 3336 1090 3337 1248 3338 1017 3339 1120 3340 1130 3341 1056 3342 1118 3343 1165 3344 985 3345 1199 3346 1129 3347 1069 3348 1198 3349 1130 3350 1098 3351 972 3352 1186 3353 1126 3354 1081 3355 1117 3356 1208 3357 1097 3358 1116 3359 1095 3360 1052 3361 1059 3362 1097 3363 1103 3364 1200 3365 1132 3366 1109 3367 1151 3368 1116 3369 1181 3370 1026 3371 988 3372 1150 3373 1097 3374 1139 3375 1043 3376 1095 3377 1118 3378 1138 3379 1115 3380 1194 3381 1080 3382 1173 3383 1089 3384 1114 3385 1054 3386 1124 3387 1058 3388 1188 3389 1084 3390 1138 3391 1110 3392 1118 3393 1064 3394 1266 3395 1102 3396 1229 3397 1047 3398 1263 3399 1194 3400 1241 3401 1020 3402 1214 3403 1115 3404 1160 3405 1250 3406 1146 3407 1081 3408 1136 3409 1064 3410 1148 3411 1122 3412 1150 3413 1101 3414 1004 3415 1100 3416 1110 3417 1166 3418 1176 3419 1031 3420 1201 3421 1187 3422 1129 3423 1153 3424 1000 3425 1291 3426 1100 3427 1078 3428 1202 3429 1168 3430 1095 3431 1021 3432 1188 3433 1235 3434 1062 3435 1027 3436 1146 3437 1280 3438 1032 3439 1137 3440 1052 3441 1126 3442 1149 3443 1155 3444 1030 3445 1033 3446 1274 3447 1189 3448 1011 3449 1149 3450 1219 3451 1122 3452 1130 3453 1129 3454 1157 3455 1144 3456 1155 3457 1102 3458 1180 3459 1143 3460 1133 3461 1041 3462 1099 3463 1130 3464 1089 3465 1097 3466 1054 3467 1091 3468 1010 3469 1038 3470 1125 3471 1152 3472 1067 3473 1090 3474 1129 3475 1227 3476 1253 3477 1101 3478 1074 3479 1072 3480 1214 3481 1058 3482 1160 3483 1098 3484 1096 3485 1179 3486 1164 3487 1270 3488 1188 3489 1251 3490 1095 3491 1119 3492 1065 3493 1100 3494 1168 3495 1101 3496 1150 3497 1084 3498 1103 3499 1193 3500 1122 3501 1119 3502 1145 3503 1065 3504 1011 3505 1150 3506 1149 3507 1292 3508 1132 3509 1156 3510 1289 3511 1102 3512 1081 3513 1180 3514 1152 3515 1200 3516 1067 3517 1246 3518 1148 3519 977 3520 1119 3521 1087 3522 1135 3523 1222 3524 1125 3525 1091 3526 1211 3527 1095 3528 1022 3529 1036 3530 1264 3531 1210 3532 1268 3533 1033 3534 1071 3535 1063 3536 1204 3537 1231 3538 1116 3539 1114 3540 1204 3541 1110 3542 1065 3543 1102 3544 1224 3545 1330 3546 1148 3547 1107 3548 1148 3549 1166 3550 1192 3551 1054 3552 1128 3553 1111 3554 1223 3555 1187 3556 1106 3557 1228 3558 1256 3559 1158 3560 1001 3561 1103 3562 973 3563 1137 3564 1156 3565 1276 3566 1186 3567 971 3568 1088 3569 1044 3570 1047 3571 1124 3572 1146 3573 1109 3574 1049 3575 1072 3576 1068 3577 1105 3578 1213 3579 1153 3580 1235 3581 1008 3582 1373 3583 1148 3584 851 3585 1163 3586 1258 3587 1125 3588 976 3589 1142 3590 1052 3591 1111 3592 1167 3593 814 3594 1114 3595 1187 3596 1181 3597 1079 3598 1076 3599 1034 3600 1106 3601 1294 3602 1062 3603 1159 3604 1157 3605 1300 3606 1191 3607 1210 3608 1127 3609 1297 3610 1117 3611 1108 3612 1257 3613 1197 3614 1225 3615 1018 3616 1426 3617 1164 3618 1322 3619 1174 3620 1025 3621 1198 3622 1107 3623 1224 3624 899 3625 1017 3626 993 3627 1282 3628 1255 3629 998 3630 1146 3631 1153 3632 1084 3633 1274 3634 1033 3635 1120 3636 1067 3637 1203 3638 1063 3639 1207 3640 1012 3641 992 3642 1017 3643 1063 3644 1049 3645 1448 3646 1026 3647 1155 3648 1111 3649 1157 3650 1290 3651 1187 3652 1046 3653 958 3654 1198 3655 1232 3656 954 3657 1229 3658 881 3659 1117 3660 1229 3661 1008 3662 925 3663 1296 3664 941 3665 1156 3666 949 3667 1168 3668 1313 3669 1064 3670 1014 3671 878 3672 921 3673 1041 3674 1151 3675 1186 3676 1158 3677 1223 3678 1156 3679 1431 3680 1102 3681 1126 3682 822 3683 1034 3684 1181 3685 1056 3686 1271 3687 1196 3688 1349 3689 954 3690 1053 3691 1265 3692 1130 3693 1011 3694 1064 3695 1078 3696 1227 3697 1200 3698 1111 3699 1014 3700 1223 3701 1259 3702 988 3703 1236 3704 996 3705 1094 3706 1019 3707 917 3708 1041 3709 1031 3710 1234 3711 1207 3712 1046 3713 941 3714 958 3715 849 3716 1086 3717 1098 3718 1004 3719 1120 3720 1130 3721 1250 3722 1005 3723 1253 3724 1062 3725 1296 3726 993 3727 1248 3728 1023 3729 1317 3730 1176 3731 913 3732 1270 3733 1110 3734 1210 3735 1498 3736 1068 3737 1045 3738 1326 3739 1020 3740 1269 3741 1307 3742 1121 3743 1248 3744 779 3745 1408 3746 991 3747 946 3748 1487 3749 1441 3750 1022 3751 1211 3752 1054 3753 919 3754 1191 3755 1318 3756 1498 3757 1086 3758 1294 3759 1066 3760 1081 3761 1378 3762 813 3763 928 3764 970 3765 1341 3766 1198 3767 1223 3768 1199 3769 1330 3770 1044 3771 1081 3772 1057 3773 1216 3774 890 3775 1089 3776 1498 3777 1241 3778 1133 3779 949 3780 1178 3781 1169 3782 1245 3783 1002 3784 1205 3785 1234 3786 1260 3787 1022 3788 1221 3789 1433 3790 1010 3791 1252 3792 1058 3793 1055 3794 905 3795 933 3796 1229 3797 1153 3798 1362 3799 819 3800 1042 3801 870 3802 1182 3803 1498 3804 845 3805 1106 3806 1098 3807 1112 3808 1005 3809 1026 3810 1418 3811 925 3812 1221 3813 1209 3814 808 3815 955 3816 1185 3817 1468 3818 1093 3819 1024 3820 1137 3821 1354 3822 1270 3823 1356 3824 1083 3825 973 3826 935 3827 1259 3828 1080 3829 1021 3830 841 3831 1060 3832 1435 3833 1247 3834 961 3835 1204 3836 1115 3837 1442 3838 1127 3839 904 3840 779 3841 903 3842 997 3843 1113 3844 1234 3845 1152 3846 1010 3847 1269 3848 951 3849 1306 3850 1455 3851 1312 3852 1434 3853 1379 3854 914 3855 1160 3856 1082 3857 909 3858 891 3859 1217 3860 878 3861 1052 3862 1122 3863 1041 3864 1389 3865 1270 3866 1143 3867 1010 3868 1192 3869 1146 3870 943 3871 862 3872 981 3873 888 3874 1198 3875 1180 3876 1064 3877 1179 3878 1218 3879 817 3880 1160 3881 1304 3882 1032 3883 782 3884 1107 3885 894 3886 1205 3887 1215 3888 1252 3889 1149 3890 782 3891 1340 3892 818 3893 1312 3894 1166 3895 967 3896 1005 3897 1070 3898 1433 3899 1055 3900 1315 3901 779 3902 1163 3903 1087 3904 1339 3905 1213 3906 1366 3907 939 3908 1172 3909 1018 3910 1252 3911 1217 3912 882 3913 1306 3914 1462 3915 1047 3916 1338 3917 1205 3918 952 3919 1277 3920 958 3921 1251 3922 844 3923 874 3924 1212 3925 1163 3926 1280 3927 1085 3928 907 3929 1396 3930 1008 3931 1289 3932 1231 3933 1348 3934 859 3935 1115 3936 1092 3937 1208 3938 989 3939 1388 3940 1119 3941 846 3942 1171 3943 1120 3944 1038 3945 1225 3946 1120 3947 1002 3948 1098 3949 1076 3950 1167 3951 1083 3952 1115 3953 939 3954 1031 3955 1153 3956 1432 3957 1032 3958 1027 3959 1239 3960 1376 3961 1267 3962 1006 3963 1257 3964 1181 3965 1095 3966 968 3967 1125 3968 1135 3969 1192 3970 917 3971 988 3972 1135 3973 1300 3974 1223 3975 1049 3976 1214 3977 1010 3978 1077 3979 1085 3980 1040 3981 1059 3982 1231 3983 1164 3984 826 3985 1276 3986 1183 3987 987 3988 1143 3989 1226 3990 1291 3991 1054 3992 993 3993 945 3994 1116 3995 990 3996 1254 3997 1101 3998 1209 3999 1100 4000 1027 4001 986 4002 1249 4003 961 4004 1183 4005 1253 4006 1144 4007 1309 4008 1122 4009 1085 4010 1148 4011 1054 4012 1163 4013 1122 4014 1307 4015 1117 4016 1231 4017 1180 4018 1134 4019 1098 4020 1333 4021 1322 4022 1161 4023 1063 4024 1077 4025 1011 4026 960 4027 1061 4028 1125 4029 1249 4030 1238 4031 1179 4032 1090 4033 1096 4034 1122 4035 1141 4036 1048 4037 1098 4038 1087 4039 1086 4040 1186 4041 1242 4042 1066 4043 1075 4044 1148 4045 1170 4046 865 4047 1208 4048 1147 4049 1093 4050 1250 4051 1110 4052 925 4053 1021 4054 1054 4055 1058 4056 1110 4057 1020 4058 1139 4059 1167 4060 1112 4061 1028 4062 1088 4063 1053 4064 1331 4065 1000 4066 884 4067 987 4068 1154 4069 1207 4070 1095 4071 1220 4072 1051 4073 1174 4074 1029 4075 991 4076 1318 4077 1094 4078 1189 4079 1255 4080 1180 4081 1143 4082 1025 4083 1265 4084 1024 4085 933 4086 1066 4087 1071 4088 1124 4089 1233 4090 1072 4091 1086 4092 1054 4093 881 4094 1054 4095 1082 4096 976 4097 1249 4098 1230 4099 1158 4100 1184 4101 1057 4102 1152 4103 959 4104 979 4105 1050 4106 1159 4107 1064 4108 1046 4109 1222 4110 1090 4111 1056 4112 1102 4113 975 4114 1008 4115 1200 4116 1111 4117 1201 4118 1068 4119 1204 4120 1035 4121 1086 4122 1031 4123 1136 4124 1259 4125 956 4126 1139 4127 993 4128 1082 4129 1059 4130 950 4131 1090 4132 990 4133 1262 4134 1040 4135 1145 4136 1135 4137 1122 4138 1090 4139 966 4140 1296 4141 1118 4142 1190 4143 1012 4144 1162 4145 1079 4146 1160 4147 1059 4148 1027 4149 1160 4150 1118 4151 1256 4152 1094 4153 1041 4154 1175 4155 1016 4156 1317 4157 1296 4158 1253 4159 1168 4160 1121 4161 1130 4162 1129 4163 1054 4164 1167 4165 1241 4166 1239 4167 922 4168 1343 4169 1139 4170 984 4171 1077 4172 1200 4173 1122 4174 1041 4175 1008 4176 1207 4177 1050 4178 1098 4179 1018 4180 991 4181 1155 4182 1258 4183 1085 4184 954 4185 1057 4186 1101 4187 895 4188 1220 4189 1037 4190 1176 4191 1118 4192 1114 4193 979 4194 1210 4195 1173 4196 1272 4197 1076 4198 1165 4199 1082 4200 1223 4201 1156 4202 1024 4203 1139 4204 1063 4205 1072 4206 1156 4207 1269 4208 1029 4209 1106 4210 1029 4211 1311 4212 1278 4213 1323 4214 1205 4215 1023 4216 1069 4217 1126 4218 1110 4219 1050 4220 1151 4221 1085 4222 1109 4223 1328 4224 1159 4225 993 4226 1160 4227 1136 4228 1179 4229 1168 4230 1015 4231 1148 4232 1218 4233 1376 4234 1176 4235 1307 4236 1293 4237 1047 4238 1055 4239 1302 4240 1041 4241 1079 4242 1196 4243 1052 4244 1275 4245 1235 4246 1257 4247 1227 4248 1038 4249 1248 4250 1230 4251 1212 4252 1104 4253 1154 4254 1040 4255 1189 4256 1243 4257 1170 4258 1119 4259 1210 4260 1096 4261 949 4262 1178 4263 1119 4264 994 4265 1184 4266 1203 4267 1226 4268 1086 4269 1074 4270 1138 4271 1120 4272 1002 4273 1041 4274 1256 4275 1125 4276 1114 4277 1056 4278 1146 4279 1185 4280 1168 4281 1292 4282 1127 4283 1181 4284 1080 4285 1221 4286 1166 4287 1217 4288 1225 4289 1058 4290 1169 4291 1083 4292 1231 4293 1117 4294 1284 4295 1171 4296 1173 4297 1070 4298 1109 4299 1143 4300 1046 4301 1108 4302 1075 4303 1053 4304 1133 4305 1154 4306 1095 4307 1166 4308 1089 4309 1020 4310 1045 4311 1162 4312 1247 4313 1132 4314 1138 4315 1021 4316 1163 4317 1146 4318 1056 4319 1171 4320 1142 4321 962 4322 984 4323 1066 4324 1101 4325 1218 4326 1073 4327 1121 4328 1106 4329 1175 4330 1128 4331 1144 4332 1097 4333 990 4334 1092 4335 1282 4336 1218 4337 1275 4338 1201 4339 1073 4340 1088 4341 1183 4342 1101 4343 1198 4344 1260 4345 1259 4346 1207 4347 990 4348 1252 4349 1007 4350 999 4351 1144 4352 1132 4353 1184 4354 1129 4355 1064 4356 1126 4357 1031 4358 1013 4359 1094 4360 1096 4361 1133 4362 1094 4363 1232 4364 1088 4365 1108 4366 1208 4367 920 4368 1218 4369 1209 4370 1101 4371 1309 4372 1201 4373 1270 4374 1218 4375 1140 4376 1097 4377 1021 4378 1050 4379 1013 4380 1071 4381 1171 4382 1020 4383 1173 4384 1185 4385 980 4386 1051 4387 1106 4388 1055 4389 1043 4390 1255 4391 1136 4392 1238 4393 1116 4394 1190 4395 996 4396 1077 4397 1204 4398 1129 4399 1241 4400 1124 4401 1075 4402 1102 4403 1308 4404 1159 4405 1078 4406 1098 4407 1015 4408 1248 4409 1077 4410 1189 4411 1109 4412 1089 4413 1061 4414 1182 4415 1110 4416 1237 4417 1260 4418 1074 4419 1133 4420 1280 4421 1208 4422 1126 4423 977 4424 1026 4425 1050 4426 1295 4427 1137 4428 1082 4429 1090 4430 1088 4431 1150 4432 957 4433 984 4434 1137 4435 1220 4436 928 4437 1180 4438 1011 4439 942 4440 1216 4441 1100 4442 1161 4443 1078 4444 1097 4445 938 4446 1071 4447 1129 4448 1018 4449 1153 4450 1162 4451 909 4452 1205 4453 1174 4454 1124 4455 1227 4456 1326 4457 1025 4458 1202 4459 1179 4460 1163 4461 1220 4462 1229 4463 1112 4464 894 4465 1056 4466 1055 4467 1269 4468 1130 4469 1239 4470 1053 4471 1149 4472 1124 4473 1136 4474 1183 4475 1271 4476 1071 4477 1258 4478 1239 4479 1156 4480 1194 4481 1103 4482 1029 4483 1104 4484 1109 4485 1126 4486 1044 4487 1301 4488 1092 4489 1215 4490 1244 4491 1128 4492 1164 4493 1071 4494 1020 4495 1346 4496 1135 4497 936 4498 1043 4499 986 4500 1118 4501 1263 4502 1233 4503 1058 4504 1034 4505 1197 4506 1153 4507 1103 4508 1292 4509 1161 4510 969 4511 913 4512 1138 4513 948 4514 1177 4515 1204 4516 1338 4517 1034 4518 1163 4519 898 4520 1096 4521 1110 4522 1297 4523 980 4524 1162 4525 1143 4526 1335 4527 1037 4528 1031 4529 1185 4530 1119 4531 1089 4532 1033 4533 1118 4534 958 4535 1150 4536 1185 4537 1172 4538 1366 4539 1203 4540 1029 4541 1102 4542 1204 4543 1093 4544 1317 4545 1154 4546 1076 4547 1059 4548 1200 4549 1038 4550 943 4551 1168 4552 1055 4553 1274 4554 1312 4555 1067 4556 1123 4557 1108 4558 1182 4559 1155 4560 1047 4561 958 4562 1148 4563 1282 4564 1002 4565 1068 4566 1060 4567 1110 4568 898 4569 1120 4570 1077 4571 1301 4572 1182 4573 1192 4574 1130 4575 1093 4576 1198 4577 956 4578 1227 4579 1170 4580 1104 4581 1245 4582 1071 4583 1065 4584 1155 4585 938 4586 1119 4587 1100 4588 1217 4589 1284 4590 1186 4591 1157 4592 1170 4593 1051 4594 1351 4595 1234 4596 1299 4597 994 4598 1180 4599 1176 4600 1231 4601 1038 4602 1166 4603 1105 4604 1318 4605 1011 4606 1088 4607 1073 4608 1004 4609 1145 4610 1143 4611 1056 4612 1085 4613 1150 4614 1123 4615 1174 4616 1056 4617 1034 4618 1127 4619 940 4620 1272 4621 1149 4622 957 4623 1167 4624 1277 4625 988 4626 1073 4627 1239 4628 1050 4629 1223 4630 1253 4631 1141 4632 1172 4633 1230 4634 1161 4635 1221 4636 1121 4637 1129 4638 1053 4639 1170 4640 1252 4641 1251 4642 1150 4643 974 4644 1042 4645 1187 4646 1033 4647 1236 4648 1026 4649 1163 4650 1050 4651 1065 4652 1153 4653 1094 4654 1227 4655 1134 4656 1019 4657 853 4658 1057 4659 1118 4660 1222 4661 1021 4662 1283 4663 1202 4664 1091 4665 1240 4666 973 4667 1018 4668 1180 4669 1179 4670 1251 4671 1259 4672 1083 4673 1065 4674 1092 4675 1100 4676 1179 4677 1091 4678 1265 4679 1126 4680 979 4681 994 4682 1170 4683 1158 4684 989 4685 947 4686 1268 4687 1167 4688 1103 4689 1005 4690 1206 4691 1062 4692 1155 4693 888 4694 1084 4695 1139 4696 1158 4697 1021 4698 1059 4699 1229 4700 1105 4701 1253 4702 1198 4703 1249 4704 1252 4705 1191 4706 1219 4707 1074 4708 1047 4709 1149 4710 1232 4711 1046 4712 1317 4713 1309 4714 1054 4715 1061 4716 1029 4717 1147 4718 1245 4719 1175 4720 1070 4721 1199 4722 1193 4723 1258 4724 1236 4725 1042 4726 1081 4727 1236 4728 1228 4729 1180 4730 1072 4731 1237 4732 1143 4733 1329 4734 1245 4735 1084 4736 1036 4737 1236 4738 1199 4739 1046 4740 1163 4741 1178 4742 1074 4743 1107 4744 1014 4745 1047 4746 1181 4747 1138 4748 1132 4749 1254 4750 1218 4751 1029 4752 1276 4753 1026 4754 1098 4755 1140 4756 1072 4757 1079 4758 1004 4759 1164 4760 1148 4761 1150 4762 936 4763 1031 4764 1213 4765 1158 4766 1193 4767 1125 4768 1105 4769 894 4770 1298 4771 1022 4772 1082 4773 1192 4774 1140 4775 1173 4776 1121 4777 1024 4778 1269 4779 993 4780 1161 4781 974 4782 1085 4783 1001 4784 1069 4785 1016 4786 1120 4787 1204 4788 1058 4789 1054 4790 913 4791 1314 4792 1144 4793 1018 4794 1244 4795 1147 4796 911 4797 982 4798 1208 4799 981 4800 1006 4801 1047 4802 1087 4803 1102 4804 1207 4805 1174 4806 1051 4807 1111 4808 938 4809 1157 4810 1351 4811 1157 4812 1097 4813 1087 4814 1119 4815 1202 4816 974 4817 1188 4818 1053 4819 1152 4820 1238 4821 982 4822 1361 4823 1205 4824 1081 4825 1158 4826 1049 4827 1134 4828 1167 4829 905 4830 1145 4831 1140 4832 1226 4833 1195 4834 1059 4835 1067 4836 1124 4837 1190 4838 1055 4839 1284 4840 1156 4841 1148 4842 1204 4843 1109 4844 1187 4845 1200 4846 941 4847 1049 4848 1002 4849 1119 4850 1026 4851 1044 4852 1000 4853 883 4854 1145 4855 1097 4856 1128 4857 1376 4858 1254 4859 1121 4860 1059 4861 1177 4862 1008 4863 992 4864 1162 4865 978 4866 945 4867 1076 4868 1215 4869 973 4870 1138 4871 1158 4872 1111 4873 1173 4874 1013 4875 1043 4876 998 4877 1063 4878 1197 4879 1137 4880 1033 4881 1161 4882 847 4883 1145 4884 1177 4885 1005 4886 1046 4887 1125 4888 1144 4889 1079 4890 1037 4891 1045 4892 1151 4893 1078 4894 1036 4895 1044 4896 1376 4897 1206 4898 1195 4899 1144 4900 1104 4901 1028 4902 1059 4903 1134 4904 1120 4905 943 4906 1180 4907 1091 4908 962 4909 1087 4910 1314 4911 1084 4912 1159 4913 1133 4914 1015 4915 1074 4916 1147 4917 1031 4918 1078 4919 1112 4920 1092 4921 1097 4922 1154 4923 1165 4924 1120 4925 1212 4926 1241 4927 989 4928 1145 4929 1125 4930 1135 4931 1120 4932 1120 4933 1116 4934 1198 4935 1027 4936 1187 4937 1016 4938 1302 4939 1222 4940 1021 4941 1136 4942 1185 4943 1084 4944 1220 4945 1115 4946 1330 4947 1165 4948 1183 4949 1067 4950 1033 4951 1203 4952 957 4953 1178 4954 1315 4955 1346 4956 964 4957 1131 4958 1183 4959 1193 4960 1225 4961 983 4962 1130 4963 938 4964 1141 4965 1343 4966 1036 4967 1157 4968 1145 4969 961 4970 1147 4971 1003 4972 1123 4973 1193 4974 1070 4975 1179 4976 996 4977 1024 4978 1116 4979 1060 4980 1064 4981 1148 4982 1030 4983 1144 4984 1059 4985 1212 4986 1112 4987 1080 4988 1196 4989 1161 4990 1172 4991 1047 4992 1190 4993 1077 4994 965 4995 1085 4996 1273 4997 1109 4998 1014 4999 1149 5000 1007 5001 1058 5002 1078 5003 1146 5004 1170 5005 1146 5006 1115 5007 1068 5008 1078 5009 1150 5010 1115 5011 1081 5012 1274 5013 1193 5014 1196 5015 1140 5016 1147 5017 1145 5018 1203 5019 1052 5020 1092 5021 1275 5022 1120 5023 1227 5024 945 5025 1164 5026 1158 5027 1112 5028 1140 5029 1126 5030 961 5031 1097 5032 1034 5033 1004 5034 1212 5035 946 5036 1049 5037 1022 5038 1202 5039 1036 5040 1078 5041 1171 5042 884 5043 1062 5044 1143 5045 1100 5046 1026 5047 1003 5048 1060 5049 994 5050 968 5051 1236 5052 1166 5053 1209 5054 1110 5055 971 5056 1053 5057 1219 5058 1148 5059 1014 5060 1170 5061 1130 5062 1089 5063 1291 5064 1039 5065 1085 5066 1061 5067 1212 5068 1193 5069 1177 5070 1094 5071 1113 5072 1107 5073 934 5074 985 5075 1188 5076 1182 5077 942 5078 1150 5079 977 5080 954 5081 1171 5082 1146 5083 1112 5084 1202 5085 1212 5086 1158 5087 1032 5088 1163 5089 1140 5090 1164 5091 1249 5092 966 5093 1340 5094 1182 5095 1062 5096 1251 5097 1057 5098 990 5099 1201 5100 1099 5101 1225 5102 1068 5103 1111 5104 1098 5105 978 5106 1071 5107 980 5108 1054 5109 1233 5110 1093 5111 1069 5112 1256 5113 981 5114 1113 5115 1082 5116 1205 5117 1113 5118 1089 5119 1151 5120 1112 5121 1319 5122 978 5123 1225 5124 1325 5125 1211 5126 1199 5127 1064 5128 1206 5129 1091 5130 1211 5131 890 5132 1064 5133 916 5134 1216 5135 1051 5136 1210 5137 1060 5138 1050 5139 1270 5140 1227 5141 1230 5142 1262 5143 1189 5144 1211 5145 1256 5146 1111 5147 1064 5148 1244 5149 1173 5150 1120 5151 1143 5152 1187 5153 1036 5154 1032 5155 1050 5156 1141 5157 913 5158 939 5159 1159 5160 1133 5161 997 5162 1196 5163 1080 5164 1116 5165 1187 5166 1143 5167 1269 5168 1172 5169 1309 5170 882 5171 964 5172 993 5173 1090 5174 1017 5175 988 5176 1015 5177 1025 5178 1207 5179 1077 5180 1172 5181 1233 5182 1229 5183 1077 5184 1011 5185 1250 5186 939 5187 968 5188 1158 5189 1165 5190 1129 5191 1019 5192 1158 5193 1226 5194 1086 5195 1316 5196 1107 5197 1000 5198 1090 5199 1040 5200 1070 5201 1046 5202 1107 5203 1200 5204 1143 5205 1129 5206 990 5207 951 5208 1078 5209 1193 5210 1191 5211 1140 5212 976 5213 1087 5214 1128 5215 1194 5216 1030 5217 1092 5218 1127 5219 1112 5220 945 5221 1137 5222 945 5223 992 5224 1117 5225 1029 5226 1134 5227 1200 5228 1148 5229 1208 5230 1069 5231 1121 5232 1063 5233 1035 5234 1376 5235 1090 5236 1291 5237 1105 5238 1205 5239 1111 5240 978 5241 1283 5242 1102 5243 1130 5244 1300 5245 1054 5246 1119 5247 1170 5248 1190 5249 837 5250 1159 5251 1291 5252 1210 5253 1157 5254 1158 5255 1130 5256 1221 5257 1065 5258 1168 5259 1250 5260 1199 5261 1159 5262 1033 5263 1071 5264 1154 5265 1120 5266 1100 5267 907 5268 1180 5269 1073 5270 1046 5271 1212 5272 1102 5273 1105 5274 1166 5275 1062 5276 1014 5277 1003 5278 1140 5279 1102 5280 874 5281 1226 5282 1099 5283 1028 5284 1107 5285 1053 5286 1104 5287 1043 5288 987 5289 1143 5290 1101 5291 1128 5292 1160 5293 1124 5294 1229 5295 1043 5296 942 5297 942 5298 987 5299 1213 5300 961 5301 1190 5302 1127 5303 927 5304 1223 5305 1033 5306 1093 5307 1137 5308 1205 5309 1078 5310 1166 5311 1011 5312 992 5313 1252 5314 1170 5315 1152 5316 1233 5317 1227 5318 1113 5319 1142 5320 1277 5321 1173 5322 1067 5323 1236 5324 1209 5325 954 5326 982 5327 1274 5328 1249 5329 1082 5330 1234 5331 1146 5332 1165 5333 1063 5334 1360 5335 1329 5336 1237 5337 1015 5338 1137 5339 1283 5340 1070 5341 1047 5342 1145 5343 1153 5344 1076 5345 994 5346 1106 5347 1066 5348 1127 5349 1158 5350 1208 5351 1095 5352 1151 5353 1145 5354 1023 5355 1070 5356 1030 5357 1270 5358 1063 5359 1178 5360 1198 5361 1202 5362 993 5363 1034 5364 1190 5365 1229 5366 1121 5367 1166 5368 945 5369 1259 5370 1294 5371 1146 5372 1121 5373 1108 5374 1042 5375 901 5376 1155 5377 1173 5378 1287 5379 1096 5380 1031 5381 1147 5382 996 5383 1119 5384 961 5385 1087 5386 1222 5387 1182 5388 1266 5389 1285 5390 1094 5391 1029 5392 913 5393 1128 5394 1145 5395 1226 5396 1017 5397 1081 5398 1178 5399 1049 5400 1062 5401 1298 5402 1043 5403 1108 5404 1159 5405 1162 5406 935 5407 958 5408 927 5409 1230 5410 1184 5411 1025 5412 1236 5413 1190 5414 1292 5415 924 5416 1009 5417 1073 5418 1099 5419 1162 5420 1160 5421 1056 5422 1189 5423 991 5424 1169 5425 1204 5426 983 5427 1136 5428 1063 5429 1161 5430 1333 5431 1064 5432 1249 5433 1006 5434 1268 5435 1297 5436 1089 5437 1077 5438 1111 5439 1236 5440 1027 5441 1260 5442 1166 5443 1196 5444 1158 5445 1031 5446 1182 5447 1062 5448 1048 5449 1283 5450 1232 5451 1158 5452 1178 5453 1089 5454 1304 5455 1045 5456 1042 5457 1138 5458 1252 5459 1122 5460 1173 5461 1061 5462 1130 5463 1044 5464 1163 5465 967 5466 1339 5467 1218 5468 1070 5469 1264 5470 1043 5471 1237 5472 1112 5473 1208 5474 1164 5475 1104 5476 1132 5477 1158 5478 890 5479 1122 5480 1213 5481 1022 5482 1034 5483 991 5484 930 5485 1211 5486 1008 5487 999 5488 1122 5489 1096 5490 1376 5491 1176 5492 929 5493 1290 5494 1173 5495 1091 5496 1060 5497 946 5498 1288 5499 1118 5500 1030 5501 1246 5502 1126 5503 917 5504 979 5505 1063 5506 1369 5507 1135 5508 1080 5509 1152 5510 1129 5511 823 5512 1143 5513 1214 5514 1095 5515 1152 5516 1152 5517 1131 5518 1035 5519 1096 5520 1237 5521 1135 5522 1069 5523 1167 5524 991 5525 1034 5526 1218 5527 1086 5528 894 5529 943 5530 1128 5531 1019 5532 1188 5533 1262 5534 1058 5535 1094 5536 1062 5537 1125 5538 1084 5539 1172 5540 1067 5541 1024 5542 1128 5543 1026 5544 1295 5545 1199 5546 950 5547 912 5548 1092 5549 1133 5550 1247 5551 1079 5552 1028 5553 1268 5554 1055 5555 1063 5556 1069 5557 1234 5558 1056 5559 1271 5560 939 5561 1106 5562 1238 5563 956 5564 979 5565 1187 5566 848 5567 1223 5568 1083 5569 974 5570 1350 5571 997 5572 1129 5573 1124 5574 1231 5575 1080 5576 1234 5577 1220 5578 1168 5579 1246 5580 921 5581 1257 5582 1199 5583 1154 5584 1122 5585 1020 5586 1017 5587 1153 5588 1161 5589 1118 5590 1015 5591 1031 5592 1175 5593 1333 5594 841 5595 997 5596 1088 5597 1077 5598 1176 5599 1225 5600 1157 5601 1145 5602 1187 5603 1272 5604 1155 5605 1045 5606 1174 5607 1119 5608 1337 5609 1144 5610 1135 5611 1250 5612 1302 5613 1066 5614 1206 5615 1056 5616 1166 5617 1037 5618 1158 5619 1280 5620 1131 5621 1157 5622 1031 5623 1169 5624 1163 5625 1003 5626 960 5627 1016 5628 978 5629 1059 5630 1015 5631 999 5632 1065 5633 1114 5634 1103 5635 783 5636 1120 5637 1145 5638 1161 5639 1123 5640 1087 5641 1247 5642 1332 5643 1082 5644 1297 5645 1088 5646 1096 5647 961 5648 883 5649 1064 5650 1178 5651 1257 5652 1207 5653 1119 5654 1346 5655 1105 5656 1128 5657 1030 5658 1144 5659 1126 5660 1205 5661 1165 5662 1327 5663 1112 5664 918 5665 1095 5666 1080 5667 1208 5668 899 5669 1199 5670 1018 5671 1099 5672 1216 5673 1016 5674 1085 5675 1088 5676 1032 5677 1171 5678 1122 5679 971 5680 1131 5681 1177 5682 1181 5683 1265 5684 1171 5685 1178 5686 1086 5687 1001 5688 1261 5689 1148 5690 1315 5691 1139 5692 1200 5693 1268 5694 1358 5695 1129 5696 1127 5697 1009 5698 1259 5699 755 5700 1278 5701 1206 5702 834 5703 970 5704 1260 5705 1131 5706 991 5707 1200 5708 1015 5709 1264 5710 1016 5711 790 5712 986 5713 1059 5714 1209 5715 1096 5716 1099 5717 1064 5718 907 5719 1479 5720 1007 5721 1008 5722 1144 5723 715 5724 541 5725 1623 5726 964 5727 1453 5728 1175 5729 1109 5730 934 5731 829 5732 960 5733 1141 5734 1328 5735 1057 5736 1150 5737 945 5738 838 5739 786 5740 1071 5741 978 5742 1185 5743 1153 5744 1285 5745 1040 5746 1285 5747 1112 5748 1126 5749 1027 5750 986 5751 1095 5752 1014 5753 1108 5754 1024 5755 1119 5756 1015 5757 966 5758 1322 5759 1220 5760 1149 5761 1129 5762 1110 5763 1098 5764 1150 5765 1066 5766 1127 5767 1121 5768 1258 5769 1308 5770 1199 5771 1246 5772 1042 5773 1172 5774 1054 5775 983 5776 1163 5777 989 5778 977 5779 1091 5780 940 5781 1080 5782 1148 5783 1062 5784 1161 5785 1219 5786 1206 5787 949 5788 1163 5789 1124 5790 1161 5791 1108 5792 1128 5793 1147 5794 1210 5795 1229 5796 1167 5797 1102 5798 975 5799 1048 5800 998 5801 1088 5802 1136 5803 1213 5804 1123 5805 1263 5806 1141 5807 1006 5808 1097 5809 1040 5810 1148 5811 1215 5812 1154 5813 1145 5814 1035 5815 982 5816 1171 5817 1144 5818 1131 5819 1143 5820 1206 5821 1114 5822 1095 5823 1093 5824 1203 5825 1129 5826 1240 5827 1055 5828 1190 5829 1139 5830 1151 5831 1160 5832 1193 5833 1241 5834 997 5835 1102 5836 1101 5837 971 5838 1127 5839 1081 5840 1119 5841 1036 5842 1085 5843 1098 5844 1138 5845 1100 5846 1038 5847 1262 5848 1129 5849 1149 5850 1141 5851 1255 5852 1068 5853 1178 5854 1136 5855 1155 5856 1234 5857 1151 5858 1246 5859 1184 5860 1142 5861 1120 5862 1116 5863 1130 5864 968 5865 1089 5866 1204 5867 1162 5868 1165 5869 1132 5870 1161 5871 1179 5872 1003 5873 1117 5874 1143 5875 1137 5876 1135 5877 1021 5878 1086 5879 1040 5880 1307 5881 1097 5882 1045 5883 980 5884 1118 5885 1237 5886 1078 5887 1161 5888 1242 5889 1162 5890 1045 5891 1035 5892 1069 5893 1191 5894 941 5895 1200 5896 1125 5897 1218 5898 1026 5899 1088 5900 1057 5901 1113 5902 1124 5903 1107 5904 1249 5905 1049 5906 1055 5907 1147 5908 1121 5909 1098 5910 1008 5911 1089 5912 1116 5913 1154 5914 1222 5915 1160 5916 1114 5917 1137 5918 1114 5919 1066 5920 1088 5921 1100 5922 1073 5923 1106 5924 1121 5925 1086 5926 1237 5927 1030 5928 1207 5929 1060 5930 1118 5931 1040 5932 1117 5933 1184 5934 1043 5935 1106 5936 1111 5937 1113 5938 1048 5939 1061 5940 1102 5941 1225 5942 1147 5943 1111 5944 991 5945 1091 5946 1125 5947 1034 5948 1126 5949 1121 5950 1107 5951 1221 5952 1051 5953 1088 5954 1138 5955 1197 5956 1103 5957 1019 5958 1162 5959 1191 5960 1089 5961 1228 5962 1270 5963 1149 5964 1166 5965 1137 5966 1156 5967 1095 5968 1134 5969 1159 5970 1150 5971 1073 5972 1050 5973 1054 5974 1069 5975 1307 5976 1187 5977 1140 5978 1104 5979 1229 5980 1017 5981 1097 5982 1161 5983 1107 5984 1142 5985 1170 5986 1082 5987 1149 5988 1215 5989 1162 5990 1126 5991 1192 5992 1028 5993 1193 5994 993 5995 1055 5996 1182 5997 1109 5998 1034 5999 1131 6000 1200 6001 1110 6002 977 6003 1220 6004 1078 6005 1117 6006 1126 6007 1145 6008 1140 6009 1044 6010 1075 6011 1186 6012 1007 6013 1206 6014 1070 6015 1105 6016 1032 6017 1092 6018 1042 6019 1119 6020 1048 6021 1093 6022 965 6023 1165 6024 1033 6025 1084 6026 1105 6027 1156 6028 1086 6029 1218 6030 1211 6031 1067 6032 1224 6033 1015 6034 1136 6035 1099 6036 1112 6037 1087 6038 1136 6039 1142 6040 1126 6041 1043 6042 1037 6043 1027 6044 1091 6045 1131 6046 1232 6047 1071 6048 1057 6049 1145 6050 1060 6051 1025 6052 1110 6053 1042 6054 1095 6055 1236 6056 1149 6057 1145 6058 1079 6059 1176 6060 1147 6061 1183 6062 1120 6063 1112 6064 1048 6065 1060 6066 1105 6067 1100 6068 1109 6069 1109 6070 1007 6071 1287 6072 1129 6073 1095 6074 1037 6075 1192 6076 1092 6077 1056 6078 1148 6079 1247 6080 1142 6081 1199 6082 1071 6083 1175 6084 990 6085 1107 6086 1172 6087 1152 6088 1192 6089 1089 6090 1011 6091 1132 6092 1051 6093 1181 6094 1095 6095 953 6096 1213 6097 1029 6098 1034 6099 1245 6100 1215 6101 1184 6102 1048 6103 1146 6104 1129 6105 1067 6106 1109 6107 1101 6108 1139 6109 1037 6110 1170 6111 998 6112 1140 6113 1172 6114 1071 6115 1085 6116 1252 6117 1101 6118 1209 6119 1174 6120 1061 6121 1176 6122 1092 6123 1143 6124 980 6125 1124 6126 1198 6127 1193 6128 1179 6129 1108 6130 1118 6131 1049 6132 1106 6133 1108 6134 1095 6135 1127 6136 1097 6137 1062 6138 1062 6139 1155 6140 1239 6141 1173 6142 1098 6143 1288 6144 1150 6145 1086 6146 1157 6147 1194 6148 993 6149 1020 6150 1136 6151 1024 6152 1026 6153 1195 6154 931 6155 1182 6156 1136 6157 1193 6158 1113 6159 1208 6160 1119 6161 1041 6162 1103 6163 1137 6164 1009 6165 1180 6166 1050 6167 1139 6168 1103 6169 1116 6170 1110 6171 1123 6172 1172 6173 1158 6174 1087 6175 1126 6176 1198 6177 1167 6178 1166 6179 1123 6180 1106 6181 1113 6182 1164 6183 1118 6184 1213 6185 1307 6186 1123 6187 1232 6188 1184 6189 1202 6190 1075 6191 1202 6192 1100 6193 1153 6194 1205 6195 1228 6196 1087 6197 1093 6198 1065 6199 990 6200 1101 6201 1101 6202 1129 6203 1113 6204 1145 6205 1182 6206 979 6207 1248 6208 1103 6209 1090 6210 1111 6211 1187 6212 1135 6213 1153 6214 1195 6215 1125 6216 1150 6217 1159 6218 1073 6219 1194 6220 1091 6221 1164 6222 1092 6223 1117 6224 1105 6225 1189 6226 1175 6227 1181 6228 1110 6229 1070 6230 1046 6231 1157 6232 1117 6233 1233 6234 1274 6235 1182 6236 1168 6237 1229 6238 1244 6239 1085 6240 1178 6241 1238 6242 959 6243 1111 6244 1145 6245 1075 6246 1175 6247 1011 6248 1228 6249 1213 6250 1133 6251 1176 6252 1024 6253 1233 6254 1174 6255 1107 6256 1084 6257 1053 6258 1100 6259 968 6260 1157 6261 1112 6262 1064 6263 1146 6264 1145 6265 1156 6266 1168 6267 1202 6268 1163 6269 1230 6270 1098 6271 1233 6272 979 6273 1005 6274 1047 6275 1140 6276 1165 6277 1039 6278 1113 6279 1086 6280 1174 6281 1050 6282 1180 6283 1118 6284 1243 6285 1170 6286 1090 6287 1156 6288 1156 6289 1070 6290 1131 6291 1038 6292 1290 6293 1086 6294 1090 6295 1231 6296 1214 6297 1064 6298 1198 6299 1169 6300 1084 6301 1149 6302 1092 6303 1185 6304 1105 6305 1050 6306 1103 6307 1275 6308 1080 6309 1122 6310 1188 6311 1028 6312 1244 6313 994 6314 1169 6315 1015 6316 1129 6317 1216 6318 1120 6319 1103 6320 1088 6321 1051 6322 1187 6323 1091 6324 1074 6325 1145 6326 1190 6327 1191 6328 1073 6329 1070 6330 1182 6331 1217 6332 1039 6333 1232 6334 1115 6335 1181 6336 1245 6337 1118 6338 1139 6339 1025 6340 966 6341 1139 6342 1054 6343 1052 6344 1162 6345 1185 6346 1012 6347 1151 6348 1128 6349 1146 6350 1135 6351 1167 6352 1073 6353 1038 6354 1152 6355 1220 6356 1123 6357 1227 6358 1170 6359 1039 6360 962 6361 1100 6362 1199 6363 1071 6364 1279 6365 1173 6366 1019 6367 1074 6368 1220 6369 1239 6370 1066 6371 1129 6372 1167 6373 1097 6374 1165 6375 1257 6376 1069 6377 1170 6378 1194 6379 1217 6380 1109 6381 1181 6382 1082 6383 1144 6384 1050 6385 1152 6386 1171 6387 1260 6388 1201 6389 1075 6390 931 6391 1211 6392 1197 6393 1102 6394 1093 6395 1172 6396 1121 6397 1235 6398 1146 6399 1063 6400 1011 6401 1138 6402 1144 6403 1094 6404 1048 6405 1092 6406 1177 6407 1101 6408 1058 6409 1175 6410 1217 6411 1090 6412 1100 6413 1058 6414 1120 6415 1170 6416 1156 6417 1196 6418 1190 6419 1164 6420 1159 6421 1047 6422 1209 6423 1129 6424 1166 6425 1021 6426 1108 6427 1151 6428 1068 6429 1121 6430 1158 6431 1017 6432 1076 6433 1004 6434 1044 6435 1071 6436 1116 6437 1199 6438 1076 6439 1121 6440 1078 6441 1126 6442 1172 6443 1194 6444 1076 6445 1034 6446 1145 6447 1093 6448 1028 6449 1182 6450 1148 6451 1201 6452 1042 6453 1107 6454 1157 6455 1238 6456 1137 6457 1055 6458 1145 6459 1154 6460 1080 6461 1209 6462 1122 6463 1083 6464 1178 6465 1181 6466 1108 6467 1132 6468 1141 6469 1111 6470 1109 6471 1188 6472 1170 6473 1093 6474 1046 6475 1030 6476 1182 6477 1048 6478 1072 6479 1127 6480 1091 6481 1066 6482 999 6483 1196 6484 1083 6485 1134 6486 1139 6487 1044 6488 1067 6489 1193 6490 1144 6491 1109 6492 1220 6493 1064 6494 1130 6495 1113 6496 1101 6497 997 6498 1122 6499 1149 6500 1002 6501 1158 6502 1160 6503 1218 6504 1049 6505 1105 6506 1091 6507 1113 6508 1134 6509 1177 6510 1177 6511 1094 6512 1116 6513 1010 6514 1176 6515 1157 6516 1193 6517 1028 6518 1208 6519 1070 6520 1023 6521 1134 6522 1073 6523 1268 6524 1150 6525 1236 6526 1112 6527 1124 6528 1176 6529 1058 6530 1099 6531 1160 6532 1159 6533 1223 6534 1137 6535 975 6536 1172 6537 1095 6538 1161 6539 1068 6540 1093 6541 1140 6542 1244 6543 1159 6544 1040 6545 1141 6546 1080 6547 1157 6548 1250 6549 1094 6550 1102 6551 1163 6552 1149 6553 1104 6554 1164 6555 1100 6556 1138 6557 1283 6558 1134 6559 1164 6560 1180 6561 1096 6562 1157 6563 1086 6564 1047 6565 1114 6566 1228 6567 1173 6568 1060 6569 1141 6570 1178 6571 1130 6572 1089 6573 1106 6574 1079 6575 1180 6576 1142 6577 1141 6578 1125 6579 1265 6580 1140 6581 1214 6582 1026 6583 1015 6584 1006 6585 1067 6586 1157 6587 1056 6588 1137 6589 1081 6590 1185 6591 1163 6592 1091 6593 999 6594 1125 6595 965 6596 931 6597 1210 6598 1125 6599 1188 6600 1133 6601 1160 6602 1128 6603 1056 6604 1058 6605 1105 6606 1123 6607 1115 6608 1115 6609 1083 6610 1123 6611 1088 6612 1212 6613 1068 6614 1001 6615 1111 6616 1219 6617 1029 6618 1146 6619 1307 6620 1138 6621 1080 6622 1096 6623 1034 6624 1078 6625 1114 6626 1265 6627 1204 6628 1110 6629 1072 6630 1200 6631 1170 6632 1086 6633 1271 6634 1275 6635 1142 6636 1103 6637 1162 6638 1309 6639 1122 6640 1233 6641 1068 6642 1132 6643 1101 6644 1068 6645 1169 6646 1050 6647 1013 6648 1088 6649 1003 6650 1180 6651 1039 6652 1099 6653 1214 6654 1131 6655 1173 6656 1176 6657 1115 6658 1021 6659 1154 6660 1111 6661 1267 6662 1113 6663 1008 6664 1042 6665 1075 6666 1177 6667 1223 6668 1133 6669 1262 6670 1253 6671 1024 6672 1221 6673 930 6674 1277 6675 1077 6676 1251 6677 1104 6678 1239 6679 1119 6680 1141 6681 1175 6682 1065 6683 951 6684 1192 6685 1021 6686 1114 6687 1127 6688 865 6689 1381 6690 1205 6691 1341 6692 1162 6693 1152 6694 789 6695 1081 6696 901 6697 962 6698 1179 6699 1064 6700 912 6701 1102 6702 1097 6703 1060 6704 1315 6705 1227 6706 1081 6707 1055 6708 1240 6709 1165 6710 1140 6711 1143 6712 1036 6713 1111 6714 1103 6715 1303 6716 1258 6717 1083 6718 1326 6719 1090 6720 1208 6721 1227 6722 1042 6723 1210 6724 1233 6725 1210 6726 1117 6727 777 6728 1393 6729 1127 6730 1155 6731 1004 6732 1172 6733 1439 6734 956 6735 1263 6736 1133 6737 1298 6738 1264 6739 1188 6740 1016 6741 1019 6742 1201 6743 1063 6744 1173 6745 1110 6746 1105 6747 1047 6748 1205 6749 1141 6750 1098 6751 1114 6752 1226 6753 909 6754 1183 6755 1033 6756 1097 6757 974 6758 1405 6759 867 6760 1151 6761 1280 6762 1108 6763 837 6764 1060 6765 1283 6766 1192 6767 966 6768 1315 6769 1149 6770 1165 6771 851 6772 1162 6773 961 6774 1219 6775 1238 6776 1012 6777 1037 6778 1338 6779 1057 6780 1047 6781 1200 6782 1081 6783 1098 6784 1186 6785 1186 6786 1234 6787 1171 6788 1295 6789 1142 6790 1282 6791 1102 6792 1133 6793 1276 6794 1001 6795 867 6796 969 6797 1309 6798 999 6799 1100 6800 1110 6801 1174 6802 1110 6803 924 6804 1075 6805 1194 6806 1169 6807 1162 6808 1081 6809 869 6810 1226 6811 1096 6812 1170 6813 1245 6814 1056 6815 971 6816 1298 6817 1293 6818 955 6819 1157 6820 1045 6821 1207 6822 1112 6823 1060 6824 1116 6825 1102 6826 1141 6827 1074 6828 1219 6829 998 6830 1024 6831 1286 6832 1075 6833 1124 6834 1246 6835 1063 6836 1257 6837 1176 6838 1054 6839 1196 6840 946 6841 1150 6842 918 6843 1222 6844 898 6845 1227 6846 1171 6847 825 6848 1356 6849 1142 6850 887 6851 1039 6852 1268 6853 1326 6854 1281 6855 1151 6856 1305 6857 1073 6858 1188 6859 792 6860 1048 6861 1044 6862 1150 6863 1369 6864 1148 6865 1339 6866 802 6867 1061 6868 1300 6869 1362 6870 926 6871 1396 6872 1062 6873 1271 6874 934 6875 1095 6876 1175 6877 1153 6878 1194 6879 1098 6880 1000 6881 1185 6882 903 6883 1164 6884 641 6885 1842 6886 1207 6887 1334 6888 1270 6889 1022 6890 1078 6891 1322 6892 920 6893 1261 6894 954 6895 911 6896 1162 6897 1100 6898 1130 6899 1230 6900 1386 6901 1217 6902 1514 6903 1279 6904 1135 6905 1226 6906 1013 6907 834 6908 1169 6909 1163 6910 1121 6911 1288 6912 1228 6913 1054 6914 1112 6915 818 6916 960 6917 1400 6918 1054 6919 1008 6920 828 6921 761 6922 834 6923 1118 6924 1272 6925 1291 6926 1038 6927 1031 6928 1168 6929 1354 6930 1140 6931 1230 6932 1548 6933 1243 6934 1113 6935 1223 6936 1059 6937 1255 6938 1023 6939 1320 6940 1284 6941 1123 6942 850 6943 1199 6944 1305 6945 1103 6946 1095 6947 987 6948 1223 6949 1416 6950 1140 6951 1151 6952 1004 6953 947 6954 1352 6955 1250 6956 1192 6957 1023 6958 1050 6959 1080 6960 1305 6961 971 6962 1027 6963 777 6964 1121 6965 906 6966 1266 6967 1200 6968 1211 6969 1181 6970 1208 6971 1228 6972 1144 6973 1208 6974 1062 6975 1152 6976 1107 6977 906 6978 1065 6979 1125 6980 1128 6981 1134 6982 1049 6983 1210 6984 978 6985 922 6986 985 6987 1205 6988 1337 6989 1180 6990 1103 6991 1016 6992 1150 6993 1161 6994 941 6995 1198 6996 999 6997 1024 6998 1275 6999 1091 7000 1188 7001 1240 7002 1336 7003 1310 7004 1084 7005 1170 7006 1095 7007 1242 7008 1157 7009 1156 7010 1291 7011 1308 7012 1074 7013 1111 7014 1226 7015 1137 7016 1051 7017 919 7018 1222 7019 1057 7020 891 7021 1118 7022 963 7023 1392 7024 967 7025 1127 7026 1315 7027 1041 7028 1011 7029 996 7030 996 7031 1129 7032 1198 7033 1171 7034 1129 7035 1083 7036 1171 7037 1120 7038 1033 7039 1091 7040 886 7041 900 7042 1232 7043 1177 7044 1246 7045 1232 7046 1069 7047 1215 7048 1219 7049 1149 7050 1044 7051 1156 7052 1157 7053 1033 7054 1078 7055 1080 7056 1031 7057 1211 7058 1104 7059 1178 7060 1025 7061 1046 7062 1212 7063 995 7064 1223 7065 1011 7066 1105 7067 1198 7068 1219 7069 1150 7070 1127 7071 1184 7072 1070 7073 1242 7074 1126 7075 1125 7076 1282 7077 1095 7078 1231 7079 1334 7080 1176 7081 1144 7082 1037 7083 1166 7084 981 7085 985 7086 1018 7087 996 7088 1091 7089 1172 7090 1062 7091 1031 7092 1102 7093 1146 7094 1257 7095 1059 7096 1091 7097 1234 7098 1116 7099 1055 7100 1134 7101 1049 7102 1051 7103 1249 7104 1150 7105 1078 7106 1036 7107 987 7108 1286 7109 1131 7110 1055 7111 1005 7112 960 7113 1204 7114 1156 7115 1214 7116 1045 7117 1236 7118 1009 7119 1033 7120 1078 7121 1308 7122 1182 7123 1052 7124 1244 7125 1145 7126 1134 7127 1038 7128 1098 7129 1099 7130 1162 7131 1125 7132 1136 7133 1054 7134 1140 7135 1024 7136 1268 7137 1008 7138 1139 7139 1015 7140 1117 7141 1042 7142 979 7143 1172 7144 1118 7145 1139 7146 1105 7147 1262 7148 1140 7149 1146 7150 1191 7151 1142 7152 1255 7153 988 7154 1082 7155 940 7156 1199 7157 1224 7158 1098 7159 1266 7160 1103 7161 1184 7162 1153 7163 1101 7164 1121 7165 943 7166 1064 7167 1234 7168 1029 7169 1238 7170 1117 7171 1230 7172 1195 7173 997 7174 1172 7175 1180 7176 1173 7177 1152 7178 984 7179 1225 7180 1230 7181 1069 7182 1260 7183 1156 7184 1015 7185 1126 7186 1166 7187 1186 7188 1203 7189 1176 7190 1113 7191 1004 7192 1032 7193 1174 7194 1188 7195 1058 7196 1279 7197 1163 7198 1154 7199 1220 7200 1210 7201 1093 7202 1266 7203 1204 7204 1181 7205 1119 7206 1242 7207 1021 7208 1153 7209 1149 7210 1158 7211 1184 7212 1210 7213 1015 7214 1108 7215 1137 7216 1031 7217 1188 7218 1067 7219 1126 7220 1203 7221 1054 7222 1254 7223 1065 7224 1202 7225 1089 7226 994 7227 1074 7228 1179 7229 1131 7230 1159 7231 1227 7232 1222 7233 1125 7234 1077 7235 1277 7236 1135 7237 1080 7238 1119 7239 1213 7240 1029 7241 1231 7242 1067 7243 974 7244 1301 7245 1106 7246 1100 7247 1109 7248 1194 7249 1156 7250 1247 7251 1118 7252 1079 7253 1186 7254 1208 7255 1170 7256 1131 7257 1125 7258 1139 7259 1124 7260 1240 7261 1353 7262 1071 7263 993 7264 1249 7265 1186 7266 1102 7267 1039 7268 1069 7269 1007 7270 1135 7271 1092 7272 1092 7273 1167 7274 1015 7275 1071 7276 1037 7277 1163 7278 1032 7279 1219 7280 1094 7281 1349 7282 1215 7283 1060 7284 1168 7285 1115 7286 1266 7287 981 7288 1074 7289 1133 7290 1092 7291 1100 7292 994 7293 1111 7294 1254 7295 1152 7296 1007 7297 1077 7298 1166 7299 1073 7300 1121 7301 1073 7302 1263 7303 1206 7304 1068 7305 1150 7306 1098 7307 942 7308 1157 7309 1109 7310 1177 7311 1183 7312 1137 7313 1252 7314 1306 7315 1000 7316 1140 7317 1023 7318 1120 7319 1118 7320 1067 7321 1063 7322 1231 7323 1015 7324 1212 7325 1113 7326 884 7327 1124 7328 970 7329 1160 7330 1073 7331 1127 7332 1092 7333 1202 7334 1207 7335 1100 7336 1261 7337 1201 7338 1070 7339 1182 7340 1205 7341 1223 7342 1118 7343 1161 7344 1118 7345 1146 7346 952 7347 1167 7348 1294 7349 1121 7350 1131 7351 1117 7352 1264 7353 1022 7354 1133 7355 1134 7356 1262 7357 1086 7358 1136 7359 1001 7360 1165 7361 1233 7362 1120 7363 1207 7364 1092 7365 1221 7366 1141 7367 1150 7368 1134 7369 1173 7370 1198 7371 1136 7372 1179 7373 1117 7374 1153 7375 1317 7376 1136 7377 998 7378 1103 7379 1074 7380 1088 7381 1170 7382 1241 7383 1054 7384 1030 7385 1078 7386 1091 7387 1094 7388 1133 7389 1106 7390 1130 7391 1101 7392 1209 7393 1183 7394 1077 7395 1159 7396 1330 7397 1120 7398 1319 7399 948 7400 1063 7401 1067 7402 1185 7403 1223 7404 1148 7405 1129 7406 1194 7407 1117 7408 1066 7409 1074 7410 1216 7411 1308 7412 1130 7413 1184 7414 1089 7415 975 7416 975 7417 1104 7418 1026 7419 974 7420 1126 7421 1105 7422 1050 7423 1133 7424 1171 7425 1191 7426 1129 7427 1181 7428 1055 7429 1157 7430 991 7431 1016 7432 1231 7433 1028 7434 1162 7435 1000 7436 1082 7437 1133 7438 1066 7439 1175 7440 1099 7441 1094 7442 1141 7443 1093 7444 1210 7445 1077 7446 1227 7447 1071 7448 1085 7449 1062 7450 1174 7451 854 7452 1147 7453 1115 7454 1189 7455 994 7456 1166 7457 1035 7458 1205 7459 1099 7460 1158 7461 1040 7462 1151 7463 1197 7464 1086 7465 1224 7466 1205 7467 1055 7468 1279 7469 1056 7470 1159 7471 1201 7472 1105 7473 1068 7474 1174 7475 1141 7476 1052 7477 1056 7478 1131 7479 1189 7480 1203 7481 1174 7482 1063 7483 1072 7484 1098 7485 996 7486 1150 7487 1156 7488 1157 7489 946 7490 1291 7491 1099 7492 1084 7493 1120 7494 906 7495 1016 7496 1053 7497 1197 7498 1079 7499 1155 7500 1121 7501 1106 7502 1164 7503 1066 7504 972 7505 1028 7506 1105 7507 1280 7508 1023 7509 1024 7510 1140 7511 1162 7512 1063 7513 1189 7514 1050 7515 1211 7516 1198 7517 1122 7518 1241 7519 1124 7520 1074 7521 1229 7522 1037 7523 1169 7524 1072 7525 1104 7526 1160 7527 1165 7528 1260 7529 1179 7530 1185 7531 970 7532 1028 7533 1233 7534 1048 7535 1103 7536 1154 7537 1080 7538 1049 7539 1169 7540 1145 7541 1108 7542 1202 7543 1106 7544 1129 7545 1177 7546 1190 7547 1094 7548 1041 7549 1092 7550 1191 7551 1053 7552 1107 7553 1068 7554 1014 7555 1195 7556 1134 7557 1170 7558 1192 7559 936 7560 1035 7561 1264 7562 1083 7563 1167 7564 1016 7565 1115 7566 1137 7567 1109 7568 1087 7569 1120 7570 1140 7571 1134 7572 1075 7573 1213 7574 1123 7575 1132 7576 1161 7577 1054 7578 1225 7579 1152 7580 1190 7581 1072 7582 1160 7583 1118 7584 1087 7585 1250 7586 1080 7587 1182 7588 1143 7589 1131 7590 1047 7591 1054 7592 958 7593 1106 7594 1160 7595 1162 7596 1062 7597 974 7598 1091 7599 1168 7600 1097 7601 1099 7602 1119 7603 1182 7604 1325 7605 1165 7606 1025 7607 1103 7608 1298 7609 1122 7610 1270 7611 938 7612 1105 7613 1218 7614 1048 7615 1185 7616 1070 7617 1120 7618 1216 7619 1061 7620 1229 7621 998 7622 1117 7623 1204 7624 1267 7625 972 7626 988 7627 1223 7628 969 7629 1107 7630 1140 7631 1129 7632 1144 7633 989 7634 1108 7635 1269 7636 928 7637 1041 7638 1209 7639 1151 7640 1194 7641 1118 7642 1086 7643 1100 7644 1170 7645 1186 7646 1044 7647 1130 7648 913 7649 1187 7650 1049 7651 1118 7652 1183 7653 996 7654 1111 7655 1194 7656 1148 7657 1028 7658 1220 7659 994 7660 1059 7661 1145 7662 996 7663 960 7664 1067 7665 1107 7666 951 7667 983 7668 1196 7669 1139 7670 1140 7671 1155 7672 1242 7673 1038 7674 1115 7675 1113 7676 991 7677 1168 7678 1127 7679 1097 7680 1157 7681 1131 7682 1051 7683 1123 7684 998 7685 1182 7686 1104 7687 1237 7688 1132 7689 1179 7690 995 7691 1053 7692 1075 7693 950 7694 988 7695 1055 7696 1178 7697 1238 7698 1125 7699 1151 7700 1174 7701 1146 7702 1255 7703 983 7704 1214 7705 1176 7706 1069 7707 1253 7708 1036 7709 1035 7710 1148 7711 1209 7712 1161 7713 1271 7714 992 7715 1117 7716 1182 7717 1195 7718 1069 7719 981 7720 1225 7721 1169 7722 1264 7723 1059 7724 1108 7725 910 7726 1132 7727 1158 7728 1180 7729 1042 7730 1254 7731 1052 7732 1099 7733 1163 7734 1195 7735 1023 7736 947 7737 1158 7738 1073 7739 958 7740 1173 7741 1143 7742 1221 7743 1134 7744 1129 7745 1156 7746 1182 7747 1250 7748 1231 7749 1201 7750 1062 7751 1164 7752 1191 7753 1060 7754 1069 7755 1184 7756 1173 7757 1060 7758 1088 7759 1190 7760 1100 7761 1125 7762 1017 7763 1193 7764 1039 7765 1082 7766 1204 7767 1023 7768 1036 7769 1230 7770 935 7771 1216 7772 1197 7773 1149 7774 1049 7775 1067 7776 1130 7777 993 7778 1084 7779 990 7780 855 7781 1104 7782 1332 7783 1159 7784 1210 7785 1114 7786 1113 7787 1223 7788 1217 7789 1144 7790 1139 7791 1336 7792 1029 7793 1119 7794 1123 7795 1094 7796 1206 7797 1127 7798 1023 7799 1019 7800 1078 7801 1145 7802 1190 7803 996 7804 1072 7805 1157 7806 1302 7807 1194 7808 1282 7809 1002 7810 1104 7811 1184 7812 1145 7813 871 7814 1005 7815 1234 7816 1133 7817 1225 7818 1266 7819 1106 7820 888 7821 971 7822 1118 7823 1154 7824 1103 7825 1022 7826 1244 7827 1279 7828 939 7829 1095 7830 966 7831 1099 7832 978 7833 1174 7834 1074 7835 971 7836 1022 7837 1161 7838 1035 7839 1178 7840 1242 7841 1071 7842 985 7843 1039 7844 1228 7845 1037 7846 1056 7847 1161 7848 1332 7849 1023 7850 1035 7851 1073 7852 1269 7853 1248 7854 1023 7855 1043 7856 1074 7857 1143 7858 1084 7859 1168 7860 1149 7861 1196 7862 1097 7863 1158 7864 1028 7865 1051 7866 1191 7867 941 7868 1218 7869 1078 7870 1015 7871 996 7872 1310 7873 1023 7874 1002 7875 980 7876 1311 7877 1180 7878 1131 7879 1160 7880 989 7881 1180 7882 1000 7883 1067 7884 1246 7885 1207 7886 1162 7887 1113 7888 1024 7889 1138 7890 1032 7891 1257 7892 1353 7893 1151 7894 1077 7895 1153 7896 1209 7897 1080 7898 930 7899 1131 7900 1184 7901 1195 7902 927 7903 1126 7904 1062 7905 1001 7906 1015 7907 1201 7908 1027 7909 1038 7910 1074 7911 1022 7912 1170 7913 1129 7914 1167 7915 1047 7916 1178 7917 1083 7918 1216 7919 1133 7920 1153 7921 1132 7922 1109 7923 1138 7924 1141 7925 1299 7926 1012 7927 1176 7928 1143 7929 1193 7930 1023 7931 1200 7932 1072 7933 1005 7934 959 7935 1004 7936 1061 7937 1225 7938 994 7939 1004 7940 1039 7941 1042 7942 1115 7943 1166 7944 1015 7945 995 7946 1210 7947 1031 7948 1097 7949 1034 7950 1094 7951 1011 7952 1020 7953 1033 7954 1239 7955 1040 7956 1116 7957 1217 7958 1051 7959 1237 7960 1032 7961 953 7962 1164 7963 1030 7964 1076 7965 1056 7966 1235 7967 1060 7968 1107 7969 1047 7970 1120 7971 1012 7972 1093 7973 1053 7974 985 7975 1102 7976 1022 7977 1098 7978 1068 7979 1165 7980 1043 7981 999 7982 1127 7983 1041 7984 1077 7985 1213 7986 1085 7987 990 7988 1161 7989 1270 7990 1099 7991 1174 7992 933 7993 1123 7994 1120 7995 1172 7996 1095 7997 1167 7998 1195 7999 1125 8000 1188 8001 990 8002 1217 8003 1126 8004 1177 8005 1235 8006 956 8007 1296 8008 977 8009 1238 8010 1110 8011 898 8012 1298 8013 1234 8014 991 8015 1102 8016 1165 8017 1122 8018 1200 8019 1107 8020 973 8021 1151 8022 1105 8023 1002 8024 925 8025 1169 8026 1090 8027 1166 8028 1173 8029 1153 8030 1172 8031 1264 8032 1286 8033 1180 8034 1106 8035 1001 8036 1164 8037 1133 8038 1055 8039 1047 8040 1129 8041 1124 8042 936 8043 1147 8044 1160 8045 1255 8046 1077 8047 1141 8048 933 8049 1147 8050 1040 8051 1028 8052 958 8053 1229 8054 966 8055 1118 8056 1128 8057 1145 8058 1152 8059 1148 8060 1314 8061 1069 8062 1113 8063 1199 8064 1125 8065 895 8066 1082 8067 1152 8068 953 8069 1186 8070 1132 8071 1166 8072 1139 8073 1048 8074 1063 8075 1180 8076 1130 8077 1111 8078 1154 8079 1123 8080 1180 8081 1181 8082 1115 8083 1205 8084 1079 8085 1136 8086 1196 8087 1171 8088 1159 8089 1133 8090 1108 8091 1137 8092 1192 8093 981 8094 1032 8095 1109 8096 1027 8097 1088 8098 1141 8099 1111 8100 862 8101 1023 8102 1019 8103 1153 8104 1061 8105 901 8106 1078 8107 1016 8108 998 8109 1057 8110 967 8111 1097 8112 1071 8113 1172 8114 865 8115 1090 8116 1109 8117 985 8118 1160 8119 1120 8120 1185 8121 1117 8122 1152 8123 1067 8124 1130 8125 1169 8126 1144 8127 1130 8128 1162 8129 1029 8130 1055 8131 1106 8132 1218 8133 1070 8134 1226 8135 1102 8136 1115 8137 1169 8138 1189 8139 1177 8140 922 8141 1142 8142 1137 8143 1028 8144 1079 8145 1018 8146 1221 8147 1210 8148 854 8149 1124 8150 1144 8151 1104 8152 1025 8153 1218 8154 1093 8155 1122 8156 1055 8157 1103 8158 1164 8159 1191 8160 1320 8161 1026 8162 1241 8163 1153 8164 960 8165 1155 8166 1061 8167 1138 8168 1053 8169 1117 8170 1162 8171 990 8172 1142 8173 1230 8174 1147 8175 1068 8176 1212 8177 1045 8178 1047 8179 917 8180 1173 8181 1057 8182 1257 8183 1155 8184 1110 8185 1081 8186 1125 8187 1128 8188 1170 8189 1157 8190 1091 8191 1066 8192 1059 8193 1025 8194 1006 8195 1268 8196 1163 8197 1133 8198 1173 8199 1020 8200 1048 8201 1129 8202 1108 8203 999 8204 1149 8205 1146 8206 1033 8207 1075 8208 984 8209 1085 8210 1048 8211 1165 8212 1197 8213 1121 8214 1337 8215 1081 8216 1027 8217 1113 8218 1138 8219 1016 8220 1124 8221 1026 8222 909 8223 1050 8224 1029 8225 1072 8226 1095 8227 1093 8228 1113 8229 1013 8230 1256 8231 1143 8232 1054 8233 1192 8234 1129 8235 1179 8236 1075 8237 1032 8238 972 8239 1069 8240 1182 8241 1094 8242 1061 8243 974 8244 1308 8245 1081 8246 1281 8247 1045 8248 1073 8249 1067 8250 1026 8251 1079 8252 1178 8253 1082 8254 992 8255 1130 8256 1116 8257 1230 8258 994 8259 1166 8260 1188 8261 1161 8262 1199 8263 1143 8264 979 8265 1032 8266 962 8267 954 8268 1203 8269 1066 8270 951 8271 861 8272 1253 8273 1255 8274 1066 8275 1152 8276 1215 8277 1076 8278 1195 8279 1338 8280 1122 8281 1105 8282 1046 8283 1010 8284 1098 8285 1143 8286 1185 8287 1282 8288 1163 8289 1002 8290 1042 8291 875 8292 1135 8293 1298 8294 1020 8295 995 8296 1237 8297 1282 8298 1101 8299 1033 8300 1234 8301 1155 8302 1199 8303 1241 8304 1255 8305 1103 8306 1159 8307 1189 8308 1390 8309 901 8310 1218 8311 1135 8312 1239 8313 1072 8314 1279 8315 1108 8316 1140 8317 1003 8318 1237 8319 1189 8320 1146 8321 850 8322 1278 8323 1083 8324 1191 8325 1080 8326 1035 8327 1102 8328 1086 8329 1084 8330 1185 8331 1145 8332 1302 8333 1160 8334 1206 8335 1149 8336 1022 8337 1070 8338 1058 8339 972 8340 1387 8341 1063 8342 1124 8343 1132 8344 1267 8345 1047 8346 965 8347 982 8348 1131 8349 1035 8350 996 8351 873 8352 955 8353 1102 8354 1109 8355 1099 8356 1091 8357 1177 8358 1016 8359 1199 8360 1211 8361 1073 8362 1186 8363 1149 8364 1353 8365 1013 8366 1123 8367 1136 8368 1059 8369 1093 8370 1200 8371 848 8372 1172 8373 989 8374 871 8375 1191 8376 1109 8377 1213 8378 978 8379 1159 8380 1244 8381 941 8382 996 8383 1221 8384 960 8385 1095 8386 749 8387 886 8388 1184 8389 1152 8390 1220 8391 1104 8392 1116 8393 1021 8394 1110 8395 1286 8396 1212 8397 927 8398 963 8399 1140 8400 1137 8401 1141 8402 1119 8403 1309 8404 999 8405 1196 8406 1102 8407 1403 8408 1090 8409 937 8410 1371 8411 912 8412 1057 8413 1204 8414 1299 8415 961 8416 1086 8417 1040 8418 1153 8419 1211 8420 1002 8421 1229 8422 997 8423 1308 8424 1225 8425 1284 8426 940 8427 1317 8428 1249 8429 1031 8430 1091 8431 817 8432 866 8433 1036 8434 1026 8435 1326 8436 1221 8437 1159 8438 1142 8439 1276 8440 1226 8441 1217 8442 974 8443 1063 8444 1159 8445 1153 8446 1082 8447 1200 8448 1152 8449 1314 8450 1029 8451 988 8452 1072 8453 1056 8454 1071 8455 836 8456 1094 8457 1270 8458 1239 8459 1023 8460 973 8461 1014 8462 1004 8463 1096 8464 1289 8465 1202 8466 1325 8467 1166 8468 1275 8469 1109 8470 1142 8471 1340 8472 1019 8473 1015 8474 1278 8475 1103 8476 1022 8477 1155 8478 1002 8479 1096 8480 971 8481 1097 8482 1142 8483 1051 8484 1012 8485 1088 8486 1174 8487 1212 8488 1165 8489 1188 8490 1095 8491 1100 8492 1133 8493 1124 8494 1100 8495 901 8496 953 8497 1189 8498 1064 8499 1161 8500 1135 8501 1151 8502 1194 8503 1277 8504 1333 8505 1096 8506 956 8507 1226 8508 1052 8509 1168 8510 1085 8511 1215 8512 1150 8513 1137 8514 1333 8515 1096 8516 1139 8517 1333 8518 1026 8519 1129 8520 1097 8521 1069 8522 1172 8523 1245 8524 1175 8525 1180 8526 815 8527 868 8528 1165 8529 1181 8530 1086 8531 1053 8532 1188 8533 1191 8534 870 8535 957 8536 1297 8537 1333 8538 1199 8539 1149 8540 1008 8541 1153 8542 1333 8543 1001 8544 985 8545 1047 8546 1286 8547 1064 8548 1175 8549 1199 8550 991 8551 1333 8552 984 8553 1071 8554 1132 8555 1100 8556 1088 8557 1333 8558 1265 8559 980 8560 1297 8561 1205 8562 1252 8563 1325 8564 628 8565 1404 8566 1097 8567 1267 8568 1333 8569 1169 8570 985 8571 765 8572 870 8573 1295 8574 1016 8575 752 8576 790 8577 890 8578 988 8579 1036 8580 1267 8581 846 8582 1097 8583 1227 8584 905 8585 1331 8586 1221 8587 1231 8588 1221 8589 1105 8590 1094 8591 1153 8592 1248 8593 1072 8594 1269 8595 1173 8596 1280 8597 1009 8598 1252 8599 1021 8600 1178 8601 1161 8602 947 8603 1099 8604 1333 8605 1039 8606 1333 8607 1084 8608 1164 8609 1282 8610 1114 8611 1164 8612 826 8613 1177 8614 833 8615 918 8616 1198 8617 1221 8618 927 8619 1141 8620 1104 8621 1155 8622 1266 8623 1169 8624 1236 8625 1303 8626 1160 8627 856 8628 881 8629 1133 8630 1106 8631 1049 8632 920 8633 1079 8634 1181 8635 1171 8636 954 8637 729 8638 1198 8639 1363 8640 1003 8641 1135 8642 1106 8643 937 8644 1117 8645 1280 8646 1355 8647 1131 8648 1261 8649 1081 8650 1274 8651 1164 8652 1296 8653 1173 8654 1178 8655 1041 8656 916 8657 1140 8658 1226 8659 823 8660 1081 8661 1049 8662 1037 8663 905 8664 986 8665 1021 8666 1004 8667 1216 8668 1173 8669 1124 8670 1119 8671 1121 8672 1066 8673 1147 8674 1141 8675 1289 8676 1004 8677 1056 8678 1094 8679 1017 8680 1027 8681 1037 8682 1293 8683 1255 8684 1158 8685 927 8686 1182 8687 1263 8688 1226 8689 1143 8690 1189 8691 1216 8692 1460 8693 933 8694 1168 8695 1166 8696 1039 8697 722 8698 1260 8699 947 8700 864 8701 1121 8702 1142 8703 1009 8704 1078 8705 1238 8706 1220 8707 1454 8708 1084 8709 1230 8710 1045 8711 1253 8712 1137 8713 1428 8714 1286 8715 1089 8716 560 8717 1573 8718 971 8719 1264 8720 1382 8721 946 8722 1226 8723 999 8724 736 8725 784 8726 986 8727 918 8728 1178 8729 1045 8730 1319 8731 1233 8732 1191 8733 854 8734 1076 8735 877 8736 1020 8737 999 8738 913 8739 1377 8740 1067 8741 976 8742 1358 8743 1045 8744 1192 8745 1200 8746 1183 8747 1185 8748 1125 8749 1268 8750 1291 8751 1181 8752 899 8753 1041 8754 1132 8755 1138 8756 1236 8757 1071 8758 987 8759 1101 8760 1022 8761 1108 8762 905 8763 1256 8764 1099 8765 1098 8766 1126 8767 1183 8768 1207 8769 1139 8770 1116 8771 1192 8772 1201 8773 1080 8774 1056 8775 1162 8776 1178 8777 1168 8778 980 8779 1097 8780 1128 8781 1067 8782 991 8783 1059 8784 1214 8785 1130 8786 1150 8787 1145 8788 1201 8789 1148 8790 1193 8791 1106 8792 1122 8793 1213 8794 1232 8795 1155 8796 1088 8797 1096 8798 1129 8799 1291 8800 1156 8801 1171 8802 1146 8803 1201 8804 1152 8805 1167 8806 970 8807 1085 8808 1137 8809 1128 8810 1132 8811 1114 8812 1150 8813 1126 8814 1066 8815 1077 8816 1107 8817 1049 8818 1112 8819 1186 8820 1235 8821 1169 8822 1129 8823 1102 8824 1063 8825 1161 8826 1175 8827 1081 8828 1058 8829 1155 8830 1105 8831 1046 8832 1106 8833 1128 8834 1255 8835 1049 8836 1088 8837 1118 8838 1154 8839 1203 8840 1131 8841 1132 8842 1062 8843 1201 8844 1043 8845 1123 8846 1057 8847 1186 8848 1105 8849 1055 8850 1118 8851 1217 8852 1146 8853 1094 8854 1213 8855 1215 8856 1111 8857 1185 8858 1086 8859 1199 8860 1240 8861 1174 8862 1040 8863 1179 8864 1125 8865 1111 8866 1184 8867 1063 8868 1115 8869 1099 8870 1230 8871 1235 8872 1291 8873 1137 8874 1139 8875 1083 8876 1040 8877 1141 8878 1142 8879 1099 8880 1038 8881 1176 8882 1089 8883 1140 8884 1146 8885 1078 8886 1174 8887 1192 8888 1087 8889 1126 8890 1141 8891 1133 8892 1096 8893 1148 8894 1081 8895 1101 8896 1040 8897 1052 8898 1076 8899 1137 8900 1118 8901 1162 8902 969 8903 1139 8904 1093 8905 1047 8906 1210 8907 1176 8908 1149 8909 1187 8910 1204 8911 1157 8912 1051 8913 1083 8914 1122 8915 1123 8916 1228 8917 1085 8918 1100 8919 1192 8920 1112 8921 1136 8922 1157 8923 1186 8924 1167 8925 1183 8926 1098 8927 1103 8928 1106 8929 1136 8930 1150 8931 1008 8932 1241 8933 1056 8934 1104 8935 1120 8936 1156 8937 1138 8938 1198 8939 1211 8940 1131 8941 1228 8942 1076 8943 1061 8944 1291 8945 1221 8946 1109 8947 1112 8948 1118 8949 1100 8950 1082 8951 1075 8952 1022 8953 1123 8954 1075 8955 1226 8956 1132 8957 1200 8958 1045 8959 991 8960 1093 8961 1205 8962 1131 8963 1122 8964 1113 8965 1062 8966 1070 8967 1290 8968 1046 8969 1155 8970 1159 8971 1043 8972 1141 8973 1210 8974 1207 8975 1121 8976 1072 8977 1038 8978 1135 8979 1153 8980 1032 8981 1153 8982 1041 8983 1110 8984 1110 8985 1139 8986 1107 8987 1153 8988 1166 8989 1132 8990 1165 8991 1106 8992 1119 8993 1140 8994 1136 8995 1138 8996 1025 8997 1124 8998 1161 8999 1142 9000 1086 9001 1136 9002 1133 9003 1140 9004 1114 9005 1102 9006 1099 9007 1226 9008 1191 9009 1288 9010 1078 9011 1061 9012 1050 9013 1116 9014 1059 9015 1126 9016 1131 9017 1220 9018 1173 9019 1161 9020 1072 9021 1030 9022 1153 9023 1103 9024 1108 9025 1172 9026 1231 9027 1171 9028 1214 9029 1144 9030 1133 9031 1135 9032 1135 9033 1096 9034 1182 9035 1073 9036 1228 9037 1120 9038 1102 9039 1174 9040 1224 9041 1088 9042 1166 9043 1080 9044 1080 9045 1124 9046 1124 9047 1068 9048 1103 9049 1182 9050 1114 9051 1093 9052 1112 9053 1113 9054 1133 9055 1132 9056 1182 9057 1213 9058 1060 9059 1164 9060 1111 9061 1218 9062 1115 9063 1176 9064 969 9065 1188 9066 1184 9067 1071 9068 1060 9069 1255 9070 1110 9071 1074 9072 1200 9073 1085 9074 1157 9075 1186 9076 1146 9077 1153 9078 1211 9079 998 9080 1153 9081 1171 9082 1076 9083 1129 9084 1049 9085 1141 9086 1104 9087 1119 9088 1115 9089 1137 9090 1131 9091 1029 9092 1166 9093 1158 9094 1146 9095 1092 9096 1101 9097 1071 9098 1207 9099 1109 9100 1135 9101 1142 9102 1115 9103 1246 9104 1109 9105 1116 9106 1213 9107 1130 9108 1037 9109 1148 9110 1091 9111 1138 9112 1175 9113 1181 9114 1149 9115 1051 9116 1078 9117 1168 9118 1068 9119 1132 9120 1167 9121 1100 9122 1181 9123 1221 9124 1051 9125 1237 9126 1094 9127 1219 9128 1126 9129 1136 9130 1151 9131 1259 9132 1131 9133 1126 9134 1180 9135 1128 9136 1068 9137 1169 9138 1110 9139 1195 9140 1102 9141 1088 9142 985 9143 1073 9144 1100 9145 1045 9146 1185 9147 1064 9148 1158 9149 1162 9150 1062 9151 1111 9152 1049 9153 1213 9154 1109 9155 1156 9156 1141 9157 1241 9158 1071 9159 1112 9160 1185 9161 1207 9162 1177 9163 1045 9164 1130 9165 1144 9166 1096 9167 1123 9168 1111 9169 1082 9170 1105 9171 1074 9172 1197 9173 1120 9174 1145 9175 1117 9176 1126 9177 1162 9178 1145 9179 1070 9180 1157 9181 1200 9182 1090 9183 1069 9184 1140 9185 1116 9186 1174 9187 1135 9188 1061 9189 1078 9190 1115 9191 1140 9192 1223 9193 1105 9194 1097 9195 1064 9196 1010 9197 1102 9198 1069 9199 1191"/></g><path d="M140.26 87.23L140.26 37.83M140.26 140.38L140.26 236.05" stroke="#1f77b4" stroke-opacity="0.75" stroke-width="1.0" fill="none"/>
<circle cx="140.33" cy="37.43" r="1.6" fill="#f00"/>
<circle cx="140.33" cy="236.05" r="1.6" fill="#f00"/>
<path d="M44.5 12.7V246.5M274.5 12.7V246.5M44.0 246.5H275.0" fill="none" stroke="#bcbcbc" stroke-width="1.0"/>
<path d="M44.22 13.0H274.78" fill="none" stroke="#000" stroke-width="0.5"/>
<line x1="44.50" y1="246.5" x2="44.50" y2="248.4" stroke="#bcbcbc" stroke-width="1.0"/>
<text x="44.50" y="256.4" font-size="8.7" text-anchor="middle">3.24</text>
<line x1="82.83" y1="246.5" x2="82.83" y2="248.4" stroke="#bcbcbc" stroke-width="1.0"/>
<text x="82.83" y="256.4" font-size="8.7" text-anchor="middle">3.26</text>
<line x1="121.17" y1="246.5" x2="121.17" y2="248.4" stroke="#bcbcbc" stroke-width="1.0"/>
<text x="121.17" y="256.4" font-size="8.7" text-anchor="middle">3.28</text>
<line x1="159.50" y1="246.5" x2="159.50" y2="248.4" stroke="#bcbcbc" stroke-width="1.0"/>
<text x="159.50" y="256.4" font-size="8.7" text-anchor="middle">3.30</text>
<line x1="197.83" y1="246.5" x2="197.83" y2="248.4" stroke="#bcbcbc" stroke-width="1.0"/>
<text x="197.83" y="256.4" font-size="8.7" text-anchor="middle">3.32</text>
<line x1="236.17" y1="246.5" x2="236.17" y2="248.4" stroke="#bcbcbc" stroke-width="1.0"/>
<text x="236.17" y="256.4" font-size="8.7" text-anchor="middle">3.34</text>
<line x1="274.50" y1="246.5" x2="274.50" y2="248.4" stroke="#bcbcbc" stroke-width="1.0"/>
<text x="274.50" y="256.4" font-size="8.7" text-anchor="middle">3.36</text>
<line x1="42.6" y1="18.45" x2="44.5" y2="18.45" stroke="#bcbcbc" stroke-width="1.0"/>
<text x="41.9" y="21.55" font-size="8.7" text-anchor="end">150</text>
<line x1="42.6" y1="49.71" x2="44.5" y2="49.71" stroke="#bcbcbc" stroke-width="1.0"/>
<text x="41.9" y="52.81" font-size="8.7" text-anchor="end">100</text>
<line x1="42.6" y1="80.98" x2="44.5" y2="80.98" stroke="#bcbcbc" stroke-width="1.0"/>
<text x="41.9" y="84.08" font-size="8.7" text-anchor="end">50</text>
<line x1="42.6" y1="112.24" x2="44.5" y2="112.24" stroke="#bcbcbc" stroke-width="1.0"/>
<text x="41.9" y="115.34" font-size="8.7" text-anchor="end">0</text>
<line x1="42.6" y1="143.51" x2="44.5" y2="143.51" stroke="#bcbcbc" stroke-width="1.0"/>
<text x="41.9" y="146.61" font-size="8.7" text-anchor="end">−50</text>
<line x1="42.6" y1="174.77" x2="44.5" y2="174.77" stroke="#bcbcbc" stroke-width="1.0"/>
<text x="41.9" y="177.87" font-size="8.7" text-anchor="end">−100</text>
<line x1="42.6" y1="206.04" x2="44.5" y2="206.04" stroke="#bcbcbc" stroke-width="1.0"/>
<text x="41.9" y="209.14" font-size="8.7" text-anchor="end">−150</text>
<line x1="42.6" y1="237.30" x2="44.5" y2="237.30" stroke="#bcbcbc" stroke-width="1.0"/>
<text x="41.9" y="240.40" font-size="8.7" text-anchor="end">−200</text>
<text x="160.70" y="270.0" font-size="12.75" text-anchor="middle">Time(s)</text>
<text transform="translate(14.6,129.75) rotate(-90)" font-size="12.75" text-anchor="middle">Sound Pressure (Pa)</text>
<line x1="161.80" y1="33.40" x2="146.72" y2="36.17" stroke="#000" stroke-width="1.8"/>
<polygon points="142.20,37.00 146.29,33.81 147.16,38.53" fill="#000"/>
<line x1="161.80" y1="234.70" x2="146.79" y2="235.70" stroke="#000" stroke-width="1.8"/>
<polygon points="142.20,236.00 146.63,233.30 146.95,238.09" fill="#000"/>
<text x="163.7" y="30.8" font-size="9.2" letter-spacing="0.22">119Pa</text>
<text x="163.9" y="242.6" font-size="9.2" letter-spacing="0.22">-198Pa</text>
<g clip-path="url(#clipR)"><polyline fill="none" stroke="#9423a8" stroke-opacity="0.8" stroke-width="1.0" stroke-linejoin="round" points="324.4,236.0 325.2,23.5 327.0,178.0 327.5,172.0 329.3,192.0 330.0,196.0 330.8,159.0 332.6,226.0 333.5,215.0 334.5,222.0 336.3,192.0 337.9,207.0 339.4,232.0 341.6,162.0 343.3,219.0 344.6,207.0 347.3,163.0 348.5,215.0 350.0,205.0 352.4,233.0 355.6,152.5 356.8,224.7 358.6,200.0 359.8,122.0 361.5,200.0 362.6,215.0 364.2,148.5 366.0,229.0 367.7,225.0 369.0,228.0 370.3,222.0 372.0,226.0 373.5,222.0 375.1,180.0 376.5,205.0 378.0,217.0 379.0,212.0 380.6,229.5 382.5,215.0 384.4,153.0 385.8,206.0 387.5,189.0 389.2,210.0 391.0,201.0 393.5,211.0 396.6,169.5 399.5,218.0 401.8,123.0 403.6,173.0 405.0,152.0 406.4,211.5 408.4,81.4 411.0,168.0 413.4,83.6 415.0,195.0 416.4,25.8 417.6,110.0 418.7,23.9 421.2,204.6 422.7,113.0 424.6,150.0 427.0,213.0 429.7,206.3 431.0,218.0 433.2,205.0 434.6,196.0 435.9,156.6 438.2,132.0 440.5,196.0 441.8,223.5 442.6,202.0 443.5,230.4 445.0,222.0 447.0,215.0 448.5,222.0 449.5,219.2 451.0,225.0 452.0,218.3 453.8,226.0 455.9,216.6 456.7,222.0 457.6,199.4 459.0,228.6 460.7,229.0 462.0,230.0 463.3,229.0 465.5,232.0 467.5,218.3 469.3,232.0 470.0,230.4 471.3,233.5 472.5,234.0 474.5,233.0 476.0,235.0 480.0,235.5 485.0,235.2 490.0,235.6 495.0,235.3 497.4,233.8 499.0,235.5 503.0,235.4 507.0,234.8 510.0,235.6 515.0,235.4 520.0,235.6 525.0,235.5 533.0,235.6"/><polyline fill="none" stroke="#ffa500" stroke-opacity="0.9" stroke-width="1.05" stroke-linejoin="round" points="323.8,234.8 325.0,234.0 326.5,235.0 328.0,234.2 329.5,235.0 331.0,234.3 332.5,234.8 334.0,232.4 336.0,234.4 338.3,204.4 339.8,230.5 341.7,224.7 344.6,234.0 346.6,213.0 348.5,197.6 350.4,232.4 353.3,230.5 355.3,222.7 357.2,218.9 358.8,200.0 360.9,128.9 362.1,185.0 363.0,205.0 365.0,215.0 367.3,234.4 370.0,233.5 372.0,232.5 374.0,233.5 376.0,232.0 378.0,233.0 380.0,232.0 382.0,233.0 384.0,231.5 386.0,232.0 387.5,220.0 389.5,226.0 391.0,220.0 392.6,230.4 394.0,232.5 396.0,233.0 398.0,232.0 400.0,233.0 402.0,232.0 404.0,233.5 406.0,232.5 408.0,233.5 410.0,232.0 412.0,233.0 414.0,232.5 416.0,231.0 418.6,227.0 420.0,231.0 422.0,232.0 424.0,233.5 426.0,233.0 428.0,233.8 432.0,233.2 436.0,233.8 440.0,233.5 442.0,230.4 443.5,233.0 448.0,233.5 453.0,229.5 454.5,233.5 456.0,234.7 462.0,234.5 470.0,235.0 472.0,236.0 480.0,236.1 500.0,236.1 520.0,236.1 533.0,236.1"/><polyline fill="none" stroke="#138a13" stroke-opacity="0.8" stroke-width="1.05" stroke-linejoin="round" points="324.4,234.0 325.2,221.0 326.5,208.3 328.0,224.1 329.8,193.0 331.0,227.9 332.5,215.0 333.7,228.6 335.5,211.0 337.0,221.0 338.8,211.0 340.8,224.7 342.7,193.0 344.6,218.9 346.0,215.0 347.5,228.6 350.4,232.4 352.4,220.8 354.3,205.3 355.8,183.0 357.2,220.8 359.1,222.7 361.0,209.0 363.0,190.0 365.0,224.7 366.9,232.4 369.0,221.8 370.5,228.0 372.9,220.0 374.0,226.0 375.8,219.7 377.0,228.0 379.0,227.8 380.5,224.0 382.0,229.0 384.0,224.0 386.0,229.0 388.0,227.0 390.0,230.0 392.0,227.0 394.0,230.0 396.0,228.0 398.0,230.0 400.0,226.0 401.8,214.4 403.5,227.0 405.5,225.0 407.0,229.0 408.5,226.0 410.5,218.7 412.5,228.0 415.0,230.0 417.0,229.5 419.4,231.0 421.0,229.0 423.0,226.0 424.5,227.0 426.3,221.8 427.2,225.2 428.5,228.6 430.0,227.0 431.5,228.6 433.0,227.0 434.5,228.0 436.0,224.0 438.3,223.5 439.5,227.0 441.0,218.0 442.6,214.9 443.5,221.8 445.0,225.0 446.0,222.0 447.0,218.0 448.5,224.0 450.4,225.0 452.0,221.8 453.0,226.0 454.7,230.4 456.0,231.5 458.0,232.5 460.0,231.5 462.0,233.0 464.0,233.5 466.0,234.0 468.0,234.7 470.0,234.5 472.0,235.5 474.0,236.0 480.0,236.1 490.0,236.0 500.0,236.1 510.0,236.0 520.0,236.1 533.0,236.1"/></g>
<path d="M313.5 12.7V246.5M543.5 12.7V246.5M313.0 246.5H544.0" fill="none" stroke="#bcbcbc" stroke-width="1.0"/>
<path d="M313.22 13.0H543.78" fill="none" stroke="#000" stroke-width="0.5"/>
<line x1="324.40" y1="246.5" x2="324.40" y2="248.4" stroke="#bcbcbc" stroke-width="1.0"/>
<text x="324.40" y="256.4" font-size="8.7" text-anchor="middle">0</text>
<line x1="357.74" y1="246.5" x2="357.74" y2="248.4" stroke="#bcbcbc" stroke-width="1.0"/>
<text x="357.74" y="256.4" font-size="8.7" text-anchor="middle">20000</text>
<line x1="391.08" y1="246.5" x2="391.08" y2="248.4" stroke="#bcbcbc" stroke-width="1.0"/>
<text x="391.08" y="256.4" font-size="8.7" text-anchor="middle">40000</text>
<line x1="424.42" y1="246.5" x2="424.42" y2="248.4" stroke="#bcbcbc" stroke-width="1.0"/>
<text x="424.42" y="256.4" font-size="8.7" text-anchor="middle">60000</text>
<line x1="457.77" y1="246.5" x2="457.77" y2="248.4" stroke="#bcbcbc" stroke-width="1.0"/>
<text x="457.77" y="256.4" font-size="8.7" text-anchor="middle">80000</text>
<line x1="491.11" y1="246.5" x2="491.11" y2="248.4" stroke="#bcbcbc" stroke-width="1.0"/>
<text x="491.11" y="256.4" font-size="8.7" text-anchor="middle">100000</text>
<line x1="524.45" y1="246.5" x2="524.45" y2="248.4" stroke="#bcbcbc" stroke-width="1.0"/>
<text x="524.45" y="256.4" font-size="8.7" text-anchor="middle">120000</text>
<line x1="311.6" y1="236.20" x2="313.5" y2="236.20" stroke="#bcbcbc" stroke-width="1.0"/>
<text x="310.9" y="239.30" font-size="8.7" text-anchor="end">0.0</text>
<line x1="311.6" y1="206.09" x2="313.5" y2="206.09" stroke="#bcbcbc" stroke-width="1.0"/>
<text x="310.9" y="209.19" font-size="8.7" text-anchor="end">0.5</text>
<line x1="311.6" y1="175.97" x2="313.5" y2="175.97" stroke="#bcbcbc" stroke-width="1.0"/>
<text x="310.9" y="179.07" font-size="8.7" text-anchor="end">1.0</text>
<line x1="311.6" y1="145.86" x2="313.5" y2="145.86" stroke="#bcbcbc" stroke-width="1.0"/>
<text x="310.9" y="148.96" font-size="8.7" text-anchor="end">1.5</text>
<line x1="311.6" y1="115.74" x2="313.5" y2="115.74" stroke="#bcbcbc" stroke-width="1.0"/>
<text x="310.9" y="118.84" font-size="8.7" text-anchor="end">2.0</text>
<line x1="311.6" y1="85.63" x2="313.5" y2="85.63" stroke="#bcbcbc" stroke-width="1.0"/>
<text x="310.9" y="88.73" font-size="8.7" text-anchor="end">2.5</text>
<line x1="311.6" y1="55.51" x2="313.5" y2="55.51" stroke="#bcbcbc" stroke-width="1.0"/>
<text x="310.9" y="58.61" font-size="8.7" text-anchor="end">3.0</text>
<line x1="311.6" y1="25.40" x2="313.5" y2="25.40" stroke="#bcbcbc" stroke-width="1.0"/>
<text x="310.9" y="28.50" font-size="8.7" text-anchor="end">3.5</text>
<text x="313.8" y="12.0" font-size="8.7">1e−2</text>
<text x="428.50" y="270.0" font-size="12.75" text-anchor="middle">Frequency (Hz)</text>
<text transform="translate(292.4,129.75) rotate(-90)" font-size="12.75" text-anchor="middle">PSD (V²/Hz)</text>
<rect x="425.3" y="18.8" width="112.2" height="53.8" rx="2" ry="2" fill="rgba(255,255,255,0.8)" stroke="#ccc" stroke-width="0.56"/>
<line x1="429.5" y1="28.00" x2="452.6" y2="28.00" stroke="#9423a8" stroke-opacity="0.8" stroke-width="1.0"/>
<text x="461.3" y="32.00" font-size="11.4">switching on</text>
<line x1="429.5" y1="44.70" x2="452.6" y2="44.70" stroke="#ffa500" stroke-opacity="0.9" stroke-width="1.05"/>
<text x="461.3" y="48.70" font-size="11.4">off</text>
<line x1="429.5" y1="61.40" x2="452.6" y2="61.40" stroke="#138a13" stroke-opacity="0.8" stroke-width="1.05"/>
<text x="461.3" y="65.40" font-size="11.4">on</text>
</svg>
</body></html>
